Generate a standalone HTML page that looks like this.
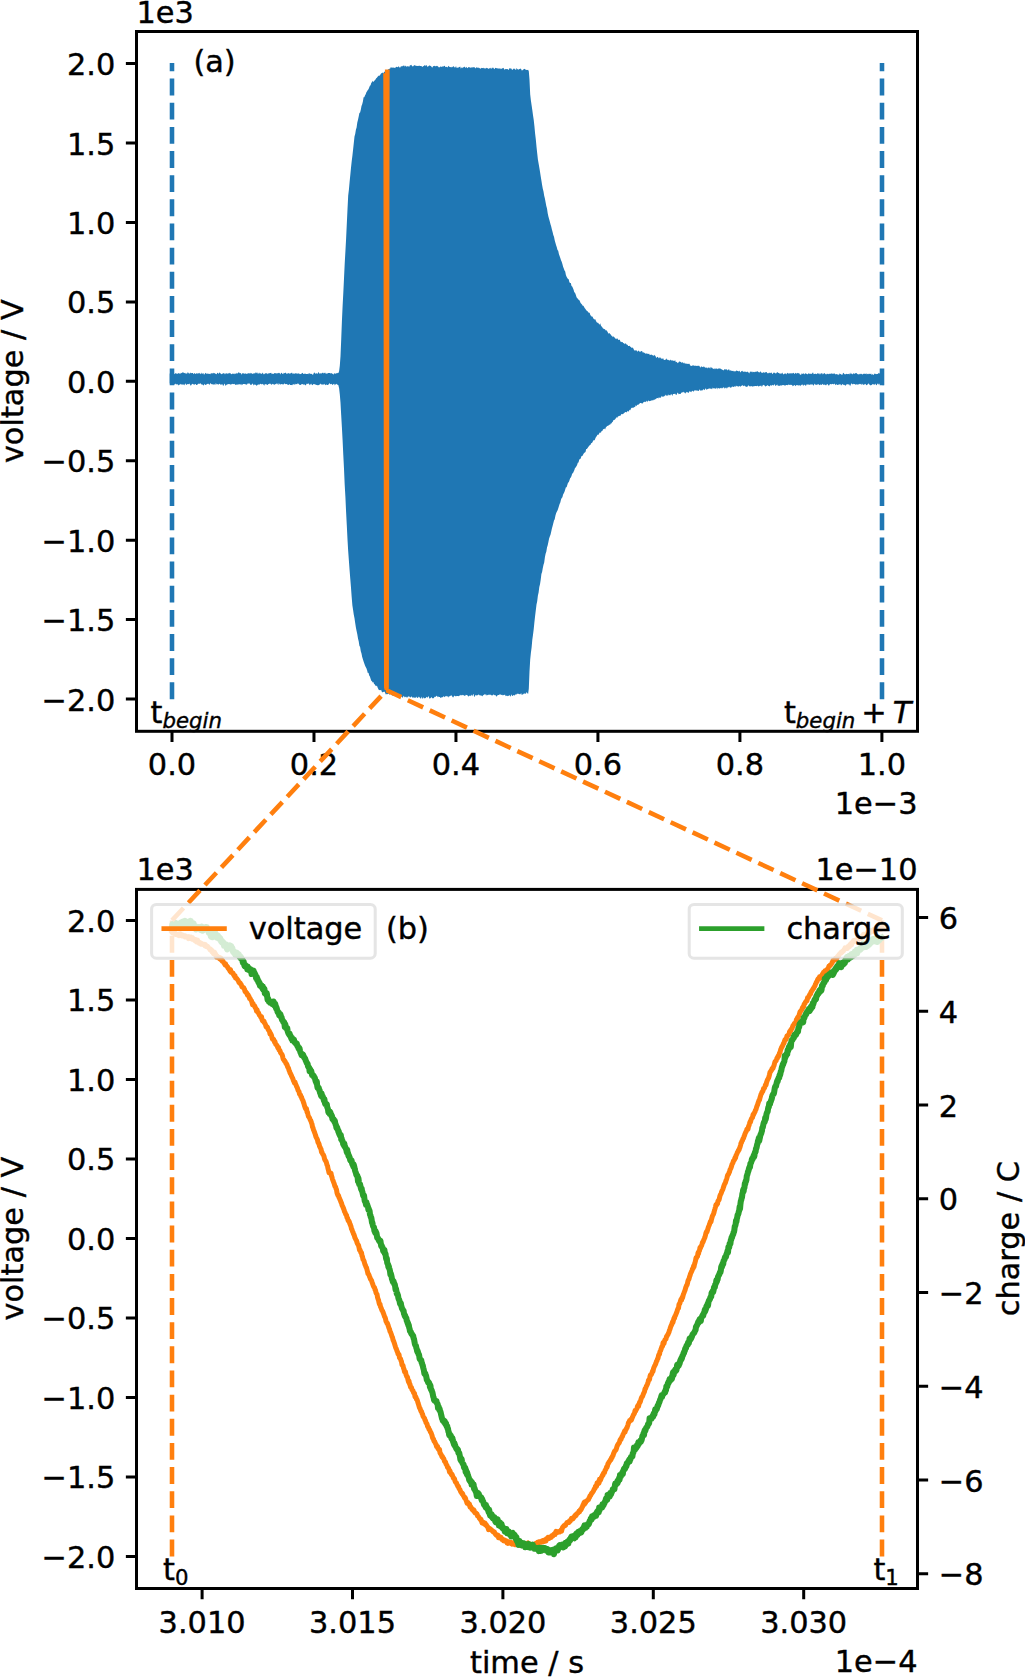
<!DOCTYPE html>
<html lang="en">
<head>
<meta charset="utf-8">
<title>Voltage burst and single-period voltage / charge traces</title>
<style>
html,body{margin:0;padding:0;background:#ffffff;}
body{width:1025px;height:1677px;overflow:hidden;}
svg{display:block;}
</style>
</head>
<body>
<svg width="1025" height="1677" viewBox="0 0 1025 1677" role="img" aria-label="Voltage burst (a) and one period of voltage and charge (b)">
<rect width="1025" height="1677" fill="#ffffff"/>
<g font-family="'DejaVu Sans', 'Liberation Sans', sans-serif" font-size="30.38" fill="#000000" stroke="#000000" stroke-width="0.4">
<path d="M169.7 373.5 L170.4 373.68 L171.1 373.34 L171.8 372.97 L172.5 373.23 L173.2 372.91 L173.9 373.54 L174.6 374.3 L175.3 373.2 L176 373.13 L176.7 373.79 L177.4 373.71 L178.1 373.56 L178.8 372.94 L179.5 373.48 L180.2 373.92 L180.9 372.69 L181.6 373.23 L182.3 372.36 L183 372.73 L183.7 372.39 L184.4 373.36 L185.1 372.74 L185.8 373.66 L186.5 373.59 L187.2 373.39 L187.9 371.99 L188.6 373.18 L189.3 373.47 L190 373.57 L190.7 372.58 L191.4 373.21 L192.1 372.91 L192.8 373.01 L193.5 374.14 L194.2 373.02 L194.9 373.48 L195.6 374.03 L196.3 373.15 L197 373.43 L197.7 373.57 L198.4 373.54 L199.1 372.76 L199.8 373.55 L200.5 374.32 L201.2 372.57 L201.9 374.02 L202.6 373.57 L203.3 373.12 L204 374.7 L204.7 373.96 L205.4 372.78 L206.1 373.54 L206.8 373.85 L207.5 373.39 L208.2 373.91 L208.9 373.46 L209.6 373.9 L210.3 374.36 L211 373.09 L211.7 373.62 L212.4 373.22 L213.1 373.58 L213.8 372.79 L214.5 373.15 L215.2 373.38 L215.9 374.04 L216.6 374.19 L217.3 372.71 L218 373.02 L218.7 373.89 L219.4 372.3 L220.1 373.22 L220.8 373.44 L221.5 374.25 L222.2 373.91 L222.9 373.3 L223.6 373.28 L224.3 373.35 L225 374.41 L225.7 373.24 L226.4 373.32 L227.1 373.71 L227.8 373.43 L228.5 373.38 L229.2 372.83 L229.9 373.49 L230.6 373.23 L231.3 374.2 L232 373.89 L232.7 373.49 L233.4 373.9 L234.1 373.3 L234.8 374.13 L235.5 373.5 L236.2 373.85 L236.9 372.73 L237.6 373.71 L238.3 372.49 L239 372.28 L239.7 373.32 L240.4 372.96 L241.1 373.6 L241.8 374.85 L242.5 373 L243.2 373.13 L243.9 373.62 L244.6 373.8 L245.3 373.39 L246 373.38 L246.7 373.92 L247.4 373.81 L248.1 372.88 L248.8 373.45 L249.5 373.52 L250.2 372.87 L250.9 373.66 L251.6 372.99 L252.3 374.08 L253 373.62 L253.7 373.55 L254.4 373.15 L255.1 373.43 L255.8 372.3 L256.5 372.82 L257.2 373.72 L257.9 372.22 L258.6 374.01 L259.3 372.45 L260 373.95 L260.7 372.99 L261.4 373.97 L262.1 373.58 L262.8 372.58 L263.5 374.25 L264.2 374.37 L264.9 373.46 L265.6 373.34 L266.3 373.4 L267 372.91 L267.7 374.16 L268.4 373.17 L269.1 373.47 L269.8 373.02 L270.5 373.12 L271.2 372.73 L271.9 374.25 L272.6 373.41 L273.3 374.08 L274 373.51 L274.7 373.08 L275.4 373.3 L276.1 373.16 L276.8 373.5 L277.5 373.27 L278.2 373.32 L278.9 372.67 L279.6 373.02 L280.3 374.49 L281 373.1 L281.7 372.87 L282.4 373.7 L283.1 374.34 L283.8 372.63 L284.5 373.37 L285.2 373.12 L285.9 372.44 L286.6 373.94 L287.3 373.49 L288 373.54 L288.7 373.05 L289.4 373.77 L290.1 373.18 L290.8 373.41 L291.5 372.84 L292.2 372.77 L292.9 374.3 L293.6 373.2 L294.3 373.68 L295 373.48 L295.7 373.24 L296.4 373.2 L297.1 373.88 L297.8 373.32 L298.5 373.41 L299.2 373.51 L299.9 374.21 L300.6 373.91 L301.3 373.73 L302 373.16 L302.7 372.67 L303.4 374.07 L304.1 374.08 L304.8 373.42 L305.5 373.83 L306.2 373.97 L306.9 374 L307.6 374.05 L308.3 373.23 L309 374.41 L309.7 372.75 L310.4 374.02 L311.1 373.8 L311.8 374.02 L312.5 374.63 L313.2 374.39 L313.9 372.81 L314.6 372.49 L315.3 373.99 L316 372.89 L316.7 373.49 L317.4 374 L318.1 372.51 L318.8 372.23 L319.5 373.66 L320.2 373.53 L320.9 373.35 L321.6 373.52 L322.3 372.98 L323 372.59 L323.7 373.4 L324.4 372.92 L325.1 372.51 L325.8 373.8 L326.5 373.46 L327.2 373.74 L327.9 372.91 L328.6 373.11 L329.3 372.9 L330 372.97 L330.7 373.62 L331.4 373.03 L332.1 373.71 L332.8 373.7 L333.5 374.72 L334.2 372.66 L334.9 374.03 L335.6 373.45 L336.3 373.49 L337 372.63 L337.7 373.22 L338.4 373.11 L339.1 371.16 L339.8 365.87 L340.5 356.31 L341.2 339.64 L341.9 321.39 L342.6 306.15 L343.3 293.12 L344 278.42 L344.7 263.75 L345.4 251.48 L346.1 238.7 L346.8 223.99 L347.5 209.33 L348.2 195.54 L348.9 189.71 L349.6 182.06 L350.3 174.93 L351 167.8 L351.7 161.33 L352.4 155.67 L353.1 149.4 L353.8 143.07 L354.5 136.58 L355.2 134.03 L355.9 129.83 L356.6 127.41 L357.3 122.51 L358 119.7 L358.7 116.43 L359.4 113.11 L360.1 112.41 L360.8 109.72 L361.5 106.04 L362.2 104.25 L362.9 101.48 L363.6 97.15 L364.3 97.15 L365 95.56 L365.7 94.25 L366.4 92.15 L367.1 91.24 L367.8 89.89 L368.5 89.31 L369.2 87.4 L369.9 85.8 L370.6 85.32 L371.3 82.87 L372 82.27 L372.7 80.71 L373.4 82.04 L374.1 80.98 L374.8 80.25 L375.5 79.4 L376.2 78.37 L376.9 77.73 L377.6 76.75 L378.3 76.08 L379 75.53 L379.7 75.71 L380.4 74.43 L381.1 73.62 L381.8 72.91 L382.5 72.48 L383.2 73.42 L383.9 72.36 L384.6 71.7 L385.3 71.05 L386 70.19 L386.7 70.42 L387.4 70.58 L388.1 69.42 L388.8 69.12 L389.5 68.72 L390.2 68.52 L390.9 67.1 L391.6 67.77 L392.3 67.3 L393 68.24 L393.7 67.15 L394.4 67.86 L395.1 68.32 L395.8 67.12 L396.5 66.85 L397.2 67.22 L397.9 67.01 L398.6 66.31 L399.3 67.08 L400 67.91 L400.7 66.45 L401.4 66.38 L402.1 65.77 L402.8 66.49 L403.5 65.45 L404.2 65.48 L404.9 66.86 L405.6 65.49 L406.3 66.62 L407 66.83 L407.7 66.02 L408.4 66.14 L409.1 66.92 L409.8 65.58 L410.5 65.28 L411.2 64.79 L411.9 65.66 L412.6 66.54 L413.3 66.25 L414 65.13 L414.7 65.21 L415.4 65.44 L416.1 65.95 L416.8 65.67 L417.5 65.95 L418.2 66.02 L418.9 65.68 L419.6 65.86 L420.3 66.03 L421 65.88 L421.7 66.26 L422.4 67.1 L423.1 66.36 L423.8 66.06 L424.5 65.04 L425.2 66.31 L425.9 64.93 L426.6 65.27 L427.3 66.66 L428 66.59 L428.7 66.1 L429.4 65.19 L430.1 66.01 L430.8 65.85 L431.5 66.67 L432.2 67.66 L432.9 66.46 L433.6 65.89 L434.3 65.67 L435 66.37 L435.7 66.32 L436.4 65.76 L437.1 66.54 L437.8 65.8 L438.5 67.18 L439.2 67.18 L439.9 67.21 L440.6 66.3 L441.3 66.92 L442 66.55 L442.7 66.42 L443.4 66.48 L444.1 65.92 L444.8 65.86 L445.5 67.23 L446.2 66.66 L446.9 66.93 L447.6 67.42 L448.3 65.8 L449 66.4 L449.7 67 L450.4 67.15 L451.1 66.72 L451.8 67.59 L452.5 67.12 L453.2 66.3 L453.9 66.49 L454.6 67.56 L455.3 67.38 L456 65.99 L456.7 67.97 L457.4 67.54 L458.1 68.02 L458.8 67.01 L459.5 67.09 L460.2 66.62 L460.9 68.84 L461.6 67.24 L462.3 68.33 L463 67.01 L463.7 67.53 L464.4 66.45 L465.1 67.25 L465.8 68.1 L466.5 66.78 L467.2 68.2 L467.9 67.79 L468.6 66.99 L469.3 67.34 L470 67.39 L470.7 67.67 L471.4 67.4 L472.1 67.25 L472.8 67.59 L473.5 67.19 L474.2 67.06 L474.9 67.83 L475.6 68.41 L476.3 66.99 L477 67.94 L477.7 67.58 L478.4 67.41 L479.1 68.53 L479.8 67.74 L480.5 68.97 L481.2 67.63 L481.9 68.36 L482.6 68.02 L483.3 67.73 L484 68.56 L484.7 68.14 L485.4 68.62 L486.1 68.26 L486.8 67.66 L487.5 68.28 L488.2 68.4 L488.9 68.97 L489.6 67.88 L490.3 68.42 L491 67.44 L491.7 68.89 L492.4 67.87 L493.1 67.46 L493.8 68.53 L494.5 69.26 L495.2 67.7 L495.9 67.99 L496.6 68.22 L497.3 68.01 L498 68.94 L498.7 68.25 L499.4 68.33 L500.1 69.14 L500.8 68.36 L501.5 69.1 L502.2 68.28 L502.9 68.16 L503.6 67.81 L504.3 70.05 L505 68.77 L505.7 69.13 L506.4 68.99 L507.1 69.13 L507.8 69.09 L508.5 70.23 L509.2 68.48 L509.9 68.2 L510.6 68.55 L511.3 68.38 L512 69.65 L512.7 69.72 L513.4 68.68 L514.1 68.44 L514.8 69.09 L515.5 70.16 L516.2 67.66 L516.9 69.69 L517.6 68.75 L518.3 70.05 L519 68.8 L519.7 69.3 L520.4 68.59 L521.1 68.96 L521.8 70.42 L522.5 70.14 L523.2 69.45 L523.9 69.22 L524.6 68.66 L525.3 69.61 L526 69.87 L526.7 69.89 L527.4 69.94 L528.1 69.63 L528.8 71.29 L529.5 79.83 L530.2 94.44 L530.9 100.62 L531.6 105.25 L532.3 109.99 L533 115.25 L533.7 119.75 L534.4 126.05 L535.1 133.46 L535.8 139.37 L536.5 146.66 L537.2 153.24 L537.9 159.58 L538.6 163.57 L539.3 167.51 L540 171.63 L540.7 176.32 L541.4 180.39 L542.1 185.12 L542.8 188.78 L543.5 191.45 L544.2 195.78 L544.9 198.41 L545.6 202.32 L546.3 205.99 L547 208.4 L547.7 213.18 L548.4 216.57 L549.1 219.01 L549.8 221.48 L550.5 224.14 L551.2 226.41 L551.9 229.46 L552.6 231.92 L553.3 234.94 L554 236.79 L554.7 240.28 L555.4 242.86 L556.1 245.32 L556.8 247.22 L557.5 249.9 L558.2 250.66 L558.9 254.02 L559.6 255.97 L560.3 258.08 L561 260.23 L561.7 261.69 L562.4 264.02 L563.1 266.64 L563.8 268.6 L564.5 270.55 L565.2 271.61 L565.9 274.92 L566.6 276.71 L567.3 278.03 L568 278.97 L568.7 279.31 L569.4 282.22 L570.1 282.98 L570.8 282.96 L571.5 286.12 L572.2 286.4 L572.9 287.93 L573.6 289.74 L574.3 292.3 L575 292.72 L575.7 294.52 L576.4 296.82 L577.1 298.13 L577.8 298.53 L578.5 299.86 L579.2 300.12 L579.9 301.33 L580.6 302.88 L581.3 303.74 L582 304.44 L582.7 305.85 L583.4 305.66 L584.1 306.97 L584.8 308.31 L585.5 309.1 L586.2 310.27 L586.9 310.74 L587.6 311.19 L588.3 312.47 L589 312.52 L589.7 313.02 L590.4 315.22 L591.1 315.72 L591.8 316.81 L592.5 316.48 L593.2 318.16 L593.9 318.89 L594.6 319.43 L595.3 319.22 L596 321.01 L596.7 322.37 L597.4 322.69 L598.1 322.73 L598.8 323.71 L599.5 324.8 L600.2 323.32 L600.9 325.53 L601.6 326.56 L602.3 327.27 L603 328.51 L603.7 328.8 L604.4 328.94 L605.1 329.56 L605.8 330.48 L606.5 330.31 L607.2 331.24 L607.9 332.44 L608.6 333.69 L609.3 333.05 L610 333.75 L610.7 334.53 L611.4 335.84 L612.1 335.65 L612.8 337.17 L613.5 336.34 L614.2 337.28 L614.9 337.68 L615.6 338.68 L616.3 339.24 L617 338.11 L617.7 338.88 L618.4 340.03 L619.1 339.84 L619.8 339.73 L620.5 341.68 L621.2 341.76 L621.9 342.16 L622.6 341.99 L623.3 343.3 L624 342.94 L624.7 344.15 L625.4 343.35 L626.1 343.79 L626.8 344.84 L627.5 344.7 L628.2 345.93 L628.9 346.09 L629.6 345.79 L630.3 346.79 L631 346.94 L631.7 348.11 L632.4 347.59 L633.1 348.11 L633.8 349.51 L634.5 350.53 L635.2 350.8 L635.9 350.04 L636.6 350.54 L637.3 351.68 L638 350.9 L638.7 350.6 L639.4 351.46 L640.1 351.88 L640.8 351.32 L641.5 351.04 L642.2 351.37 L642.9 352.85 L643.6 352.2 L644.3 352.79 L645 353.21 L645.7 353.66 L646.4 353.3 L647.1 354.01 L647.8 353.39 L648.5 353.92 L649.2 353.73 L649.9 355.24 L650.6 354.75 L651.3 354.54 L652 354.98 L652.7 355.27 L653.4 356.03 L654.1 354.87 L654.8 355.41 L655.5 356.02 L656.2 357.98 L656.9 357.24 L657.6 356.81 L658.3 357.52 L659 358.53 L659.7 357.37 L660.4 357.5 L661.1 358.66 L661.8 358.44 L662.5 358.76 L663.2 358.26 L663.9 359.93 L664.6 360.01 L665.3 359.54 L666 359.82 L666.7 358.37 L667.4 360.12 L668.1 359.77 L668.8 360.3 L669.5 360.6 L670.2 360.13 L670.9 359.47 L671.6 360.86 L672.3 360.35 L673 360.74 L673.7 360.73 L674.4 361.04 L675.1 360.01 L675.8 362.27 L676.5 361.85 L677.2 362.51 L677.9 363.18 L678.6 362.16 L679.3 361.21 L680 361.91 L680.7 361.87 L681.4 362.45 L682.1 362.95 L682.8 361.85 L683.5 363.4 L684.2 362.44 L684.9 363.68 L685.6 363.58 L686.3 363.61 L687 363.91 L687.7 363.78 L688.4 363.88 L689.1 363.39 L689.8 364.54 L690.5 365.81 L691.2 366.04 L691.9 365.8 L692.6 365.58 L693.3 364.9 L694 366.32 L694.7 365.57 L695.4 365.72 L696.1 365.7 L696.8 366.03 L697.5 365.81 L698.2 366.12 L698.9 365.62 L699.6 366.15 L700.3 367.84 L701 366.53 L701.7 366.53 L702.4 367.09 L703.1 367.3 L703.8 366.31 L704.5 366.95 L705.2 367.73 L705.9 367.44 L706.6 367.45 L707.3 368.41 L708 367.17 L708.7 367.73 L709.4 367.47 L710.1 368.77 L710.8 366.81 L711.5 367.68 L712.2 367.86 L712.9 368.68 L713.6 368.75 L714.3 369.32 L715 367.64 L715.7 369.13 L716.4 368.61 L717.1 368.48 L717.8 369.31 L718.5 368.53 L719.2 367.94 L719.9 369.06 L720.6 368.47 L721.3 369.05 L722 369.74 L722.7 369.78 L723.4 370.62 L724.1 369.63 L724.8 368.9 L725.5 369.44 L726.2 369.42 L726.9 369.32 L727.6 370.39 L728.3 369.82 L729 369.09 L729.7 370.77 L730.4 370.36 L731.1 370.72 L731.8 370.65 L732.5 371.04 L733.2 370.76 L733.9 371.55 L734.6 371.14 L735.3 371.2 L736 371.29 L736.7 370.24 L737.4 371.09 L738.1 371.11 L738.8 371.47 L739.5 370.6 L740.2 372.48 L740.9 371.63 L741.6 370.92 L742.3 370.7 L743 371.63 L743.7 371.77 L744.4 371.42 L745.1 371.93 L745.8 371.51 L746.5 372.25 L747.2 371.51 L747.9 371.95 L748.6 372.58 L749.3 373.56 L750 371.44 L750.7 371.79 L751.4 371.59 L752.1 372.59 L752.8 371.45 L753.5 371.88 L754.2 372.17 L754.9 371.63 L755.6 371.67 L756.3 371.98 L757 371.03 L757.7 371.45 L758.4 372.09 L759.1 372.45 L759.8 372.27 L760.5 371.35 L761.2 372.16 L761.9 372.94 L762.6 372.82 L763.3 372.46 L764 372 L764.7 372.94 L765.4 372.23 L766.1 371.9 L766.8 372.15 L767.5 373.52 L768.2 372.81 L768.9 373.4 L769.6 372.44 L770.3 373.32 L771 372.42 L771.7 372.71 L772.4 374.32 L773.1 373.31 L773.8 372.57 L774.5 372.85 L775.2 373.12 L775.9 373.67 L776.6 372.68 L777.3 371.95 L778 372.85 L778.7 373.05 L779.4 373.14 L780.1 373.88 L780.8 373.31 L781.5 373.63 L782.2 372.51 L782.9 373.71 L783.6 374.47 L784.3 373.7 L785 373.42 L785.7 373.38 L786.4 374.38 L787.1 372.76 L787.8 373.25 L788.5 373.6 L789.2 373.78 L789.9 373.08 L790.6 373.54 L791.3 373.19 L792 373.44 L792.7 373.3 L793.4 372.7 L794.1 373.38 L794.8 373.93 L795.5 372.83 L796.2 373.27 L796.9 373.82 L797.6 372.79 L798.3 373.55 L799 372.81 L799.7 374.14 L800.4 374.85 L801.1 374.68 L801.8 373.35 L802.5 373.93 L803.2 373.57 L803.9 373.56 L804.6 374.44 L805.3 372.73 L806 374.16 L806.7 373.51 L807.4 374.39 L808.1 373.66 L808.8 373.16 L809.5 373.73 L810.2 374.02 L810.9 373.6 L811.6 373.88 L812.3 373.29 L813 372.33 L813.7 374.15 L814.4 374.04 L815.1 373.72 L815.8 373.68 L816.5 374.27 L817.2 373.38 L817.9 373.24 L818.6 373.56 L819.3 374.39 L820 372.85 L820.7 374.41 L821.4 373.32 L822.1 373.05 L822.8 374.47 L823.5 373.67 L824.2 372.95 L824.9 373.53 L825.6 374.31 L826.3 374.47 L827 373.51 L827.7 374.02 L828.4 374.21 L829.1 373.4 L829.8 374.01 L830.5 373.78 L831.2 373.48 L831.9 373.51 L832.6 373.85 L833.3 373.82 L834 373.47 L834.7 373.55 L835.4 374.48 L836.1 373.94 L836.8 374.34 L837.5 374.53 L838.2 374.17 L838.9 375.18 L839.6 373.32 L840.3 374.3 L841 373.63 L841.7 374.94 L842.4 374.84 L843.1 372.65 L843.8 373.24 L844.5 374.23 L845.2 374.3 L845.9 374.27 L846.6 373.79 L847.3 374.1 L848 374.22 L848.7 373.79 L849.4 374.45 L850.1 372.48 L850.8 374.22 L851.5 373.22 L852.2 374.42 L852.9 373.7 L853.6 373.31 L854.3 374.07 L855 373.3 L855.7 373.3 L856.4 372.91 L857.1 373.83 L857.8 374.15 L858.5 374.47 L859.2 373.77 L859.9 374.48 L860.6 373.87 L861.3 373.8 L862 374.2 L862.7 374.5 L863.4 373.66 L864.1 373.72 L864.8 373.77 L865.5 373.92 L866.2 373.33 L866.9 374.48 L867.6 373.63 L868.3 374.15 L869 373.38 L869.7 374.09 L870.4 374.11 L871.1 373.62 L871.8 375.09 L872.5 374.1 L873.2 374.95 L873.9 374.46 L874.6 373.48 L875.3 373.65 L876 374.15 L876.7 373.92 L877.4 373.92 L878.1 373.72 L878.8 372.8 L879.5 373.76 L880.2 372.56 L880.9 374.12 L881.6 373.46 L882.3 373.47 L883 373.77 L883.7 374.06 L883.7 384.49 L883 385.67 L882.3 384.12 L881.6 384.5 L880.9 384.9 L880.2 382.99 L879.5 384.03 L878.8 384.63 L878.1 383.61 L877.4 383.74 L876.7 385.22 L876 384.99 L875.3 383.52 L874.6 384.69 L873.9 384.44 L873.2 384.33 L872.5 384.08 L871.8 385.19 L871.1 384.63 L870.4 385.48 L869.7 385.04 L869 383.83 L868.3 383.41 L867.6 384.6 L866.9 385.12 L866.2 385.25 L865.5 383.8 L864.8 384.62 L864.1 384.25 L863.4 384.91 L862.7 384.44 L862 383.51 L861.3 384.88 L860.6 384.02 L859.9 383.66 L859.2 384.19 L858.5 384.17 L857.8 384.97 L857.1 383.97 L856.4 384.4 L855.7 384.71 L855 384.29 L854.3 383.99 L853.6 383.76 L852.9 384.58 L852.2 384.11 L851.5 383.26 L850.8 384.58 L850.1 386.15 L849.4 384.62 L848.7 384.68 L848 383.76 L847.3 384.48 L846.6 384.22 L845.9 385.36 L845.2 385.64 L844.5 384.83 L843.8 384.98 L843.1 384.55 L842.4 383.89 L841.7 384.95 L841 385.61 L840.3 384.07 L839.6 384.59 L838.9 384.37 L838.2 385.06 L837.5 384.95 L836.8 384.53 L836.1 384.17 L835.4 385.13 L834.7 383.86 L834 383.82 L833.3 384.61 L832.6 383.64 L831.9 384.29 L831.2 384.21 L830.5 383.89 L829.8 384.16 L829.1 385.46 L828.4 385.55 L827.7 384.16 L827 383.98 L826.3 385.37 L825.6 385.24 L824.9 384.57 L824.2 384.84 L823.5 385.03 L822.8 383.75 L822.1 384.54 L821.4 384.92 L820.7 384.61 L820 384.77 L819.3 385.14 L818.6 384.11 L817.9 384.65 L817.2 384.17 L816.5 385.05 L815.8 384.51 L815.1 384.7 L814.4 383.62 L813.7 385.69 L813 385.11 L812.3 384.35 L811.6 384.58 L810.9 384.41 L810.2 384.62 L809.5 384.77 L808.8 384.92 L808.1 384.01 L807.4 384.65 L806.7 384.2 L806 385.63 L805.3 385.44 L804.6 384.85 L803.9 384.7 L803.2 385.99 L802.5 384.31 L801.8 385.34 L801.1 384.4 L800.4 386.2 L799.7 384.93 L799 385.8 L798.3 385.14 L797.6 385.15 L796.9 384.92 L796.2 385.18 L795.5 386.31 L794.8 384.97 L794.1 385.28 L793.4 385.81 L792.7 386.23 L792 384.67 L791.3 384.97 L790.6 384.71 L789.9 385.02 L789.2 384.76 L788.5 384.53 L787.8 385.28 L787.1 384.92 L786.4 385 L785.7 385.18 L785 385.79 L784.3 385.14 L783.6 385.1 L782.9 385.13 L782.2 385.04 L781.5 385.69 L780.8 384.91 L780.1 386.08 L779.4 385.86 L778.7 385.43 L778 386.17 L777.3 384.5 L776.6 385.06 L775.9 385.66 L775.2 385.71 L774.5 383.97 L773.8 385.23 L773.1 385.39 L772.4 384.8 L771.7 385.61 L771 385.81 L770.3 385.05 L769.6 386.56 L768.9 385.9 L768.2 385.73 L767.5 384.93 L766.8 386.11 L766.1 385.69 L765.4 386.87 L764.7 385.41 L764 385.18 L763.3 384.86 L762.6 385.46 L761.9 386.88 L761.2 385.53 L760.5 385.64 L759.8 386.3 L759.1 385.66 L758.4 386.78 L757.7 385.45 L757 386.37 L756.3 385.93 L755.6 385.95 L754.9 386.06 L754.2 386.14 L753.5 386.29 L752.8 386.38 L752.1 386.61 L751.4 385.91 L750.7 386.6 L750 386.12 L749.3 386.57 L748.6 385.32 L747.9 385.81 L747.2 386.94 L746.5 386.64 L745.8 386.67 L745.1 386.09 L744.4 385.49 L743.7 386.3 L743 385.39 L742.3 385.34 L741.6 385.83 L740.9 386.17 L740.2 386.68 L739.5 385.65 L738.8 386.63 L738.1 386.34 L737.4 386.32 L736.7 386.36 L736 385.45 L735.3 387.08 L734.6 386.21 L733.9 386.86 L733.2 387.02 L732.5 386.59 L731.8 386.68 L731.1 387.81 L730.4 387.82 L729.7 386.49 L729 387.7 L728.3 386.82 L727.6 387.59 L726.9 388.78 L726.2 387.55 L725.5 387.74 L724.8 388.74 L724.1 387.44 L723.4 387.26 L722.7 388.45 L722 387.39 L721.3 388.5 L720.6 387.68 L719.9 388.86 L719.2 388.21 L718.5 388.31 L717.8 387.73 L717.1 389.43 L716.4 387.48 L715.7 388.43 L715 388.96 L714.3 387.99 L713.6 388 L712.9 389.24 L712.2 387.48 L711.5 389.16 L710.8 388.8 L710.1 388.4 L709.4 388.38 L708.7 388.41 L708 389.14 L707.3 388.97 L706.6 390.1 L705.9 388.26 L705.2 389 L704.5 390.27 L703.8 389.22 L703.1 389.54 L702.4 390.57 L701.7 390.3 L701 390.64 L700.3 390.42 L699.6 389.32 L698.9 390.76 L698.2 391.1 L697.5 390.56 L696.8 390.74 L696.1 390.19 L695.4 390.51 L694.7 390.19 L694 391.05 L693.3 391.69 L692.6 390.74 L691.9 391.02 L691.2 392.26 L690.5 391.78 L689.8 390.94 L689.1 392.08 L688.4 392.98 L687.7 392.5 L687 391.75 L686.3 392.3 L685.6 393.74 L684.9 392.09 L684.2 393.2 L683.5 391.87 L682.8 392.01 L682.1 392.86 L681.4 392.55 L680.7 393.89 L680 393.8 L679.3 394.09 L678.6 394.25 L677.9 392.62 L677.2 393.35 L676.5 394.93 L675.8 394.73 L675.1 393.51 L674.4 394.08 L673.7 393.94 L673 393.98 L672.3 395.94 L671.6 394.34 L670.9 394.28 L670.2 395.43 L669.5 394.92 L668.8 395.6 L668.1 394.19 L667.4 395.94 L666.7 395.14 L666 396.1 L665.3 394.48 L664.6 396.18 L663.9 395.88 L663.2 396.94 L662.5 396.71 L661.8 395.66 L661.1 397.37 L660.4 397.63 L659.7 398.02 L659 397.06 L658.3 398.53 L657.6 398.11 L656.9 397.95 L656.2 398.77 L655.5 399.03 L654.8 400.01 L654.1 399.3 L653.4 400.32 L652.7 400.53 L652 400.09 L651.3 400.86 L650.6 400.65 L649.9 401.28 L649.2 401.08 L648.5 400.62 L647.8 401.01 L647.1 402.26 L646.4 400.51 L645.7 402.22 L645 401.61 L644.3 401.91 L643.6 402 L642.9 403.15 L642.2 403.38 L641.5 403.24 L640.8 402.91 L640.1 403.1 L639.4 403.64 L638.7 404.5 L638 404.76 L637.3 404.71 L636.6 406.27 L635.9 405.1 L635.2 406.86 L634.5 406.9 L633.8 407.42 L633.1 407.78 L632.4 407.66 L631.7 407.81 L631 408.38 L630.3 410.13 L629.6 409.8 L628.9 410.99 L628.2 411.81 L627.5 410.67 L626.8 412.42 L626.1 412.09 L625.4 412.03 L624.7 412.6 L624 413.13 L623.3 413.85 L622.6 414.35 L621.9 414.02 L621.2 414.23 L620.5 415.65 L619.8 415.68 L619.1 416.07 L618.4 416.37 L617.7 416.81 L617 418.16 L616.3 416.97 L615.6 418.74 L614.9 419.47 L614.2 420.06 L613.5 419.89 L612.8 421.75 L612.1 422.18 L611.4 423.5 L610.7 423.39 L610 425.12 L609.3 424.62 L608.6 425.53 L607.9 425.66 L607.2 426.05 L606.5 426.69 L605.8 427.39 L605.1 429.57 L604.4 428.57 L603.7 429.01 L603 429.51 L602.3 430.88 L601.6 431.08 L600.9 432.69 L600.2 432.51 L599.5 432.76 L598.8 434.42 L598.1 434.68 L597.4 434.84 L596.7 436.3 L596 436.88 L595.3 438.41 L594.6 440.15 L593.9 440.16 L593.2 440.57 L592.5 442.2 L591.8 442.97 L591.1 443.28 L590.4 444.95 L589.7 445.18 L589 446.11 L588.3 446.9 L587.6 447.89 L586.9 448.93 L586.2 449.02 L585.5 451.96 L584.8 452.39 L584.1 453 L583.4 453.89 L582.7 455.72 L582 455.68 L581.3 456.5 L580.6 458.67 L579.9 459.07 L579.2 459.86 L578.5 462.4 L577.8 462.72 L577.1 464.89 L576.4 466.2 L575.7 467.41 L575 468.02 L574.3 470.17 L573.6 471.67 L572.9 473.15 L572.2 473.44 L571.5 475.96 L570.8 477.51 L570.1 478.34 L569.4 480.53 L568.7 482.13 L568 482.87 L567.3 484.9 L566.6 487.21 L565.9 487.31 L565.2 489.6 L564.5 491.85 L563.8 493.23 L563.1 494.6 L562.4 497.29 L561.7 497.89 L561 499.56 L560.3 502.51 L559.6 503.98 L558.9 506.21 L558.2 508.59 L557.5 510.54 L556.8 511.69 L556.1 513.19 L555.4 515.79 L554.7 519.29 L554 520.38 L553.3 523.29 L552.6 526.02 L551.9 528.62 L551.2 531.83 L550.5 534.64 L549.8 536.47 L549.1 538.59 L548.4 541.97 L547.7 545.35 L547 547.48 L546.3 551.82 L545.6 553.8 L544.9 557.29 L544.2 562.46 L543.5 564.76 L542.8 567.9 L542.1 572.08 L541.4 574.09 L540.7 579.68 L540 584.22 L539.3 587.1 L538.6 592.47 L537.9 595.44 L537.2 601.32 L536.5 604.46 L535.8 610.16 L535.1 615.95 L534.4 622.21 L533.7 629.37 L533 634.7 L532.3 639.86 L531.6 647.42 L530.9 652.74 L530.2 659.6 L529.5 671.49 L528.8 688.7 L528.1 693.96 L527.4 693.18 L526.7 691.94 L526 693.49 L525.3 693.83 L524.6 693.58 L523.9 693.47 L523.2 694.19 L522.5 694.51 L521.8 695.07 L521.1 693.04 L520.4 694.25 L519.7 694.13 L519 694.03 L518.3 693.83 L517.6 693.87 L516.9 693.84 L516.2 694.71 L515.5 694.14 L514.8 695.39 L514.1 695.17 L513.4 695.04 L512.7 695.89 L512 695.67 L511.3 694.31 L510.6 696.75 L509.9 695.63 L509.2 695.04 L508.5 696.08 L507.8 695.66 L507.1 696.25 L506.4 695.47 L505.7 696.15 L505 694.42 L504.3 695.03 L503.6 694.9 L502.9 695.58 L502.2 694.87 L501.5 694.88 L500.8 694.51 L500.1 694.56 L499.4 694.59 L498.7 694.99 L498 695.06 L497.3 695.58 L496.6 696.67 L495.9 695.68 L495.2 695 L494.5 695.22 L493.8 694.5 L493.1 694.69 L492.4 695.42 L491.7 695.48 L491 694.73 L490.3 694.7 L489.6 694.8 L488.9 694.38 L488.2 694.98 L487.5 695.36 L486.8 694.49 L486.1 695.87 L485.4 694.34 L484.7 693.96 L484 695.28 L483.3 694.72 L482.6 696.57 L481.9 695.23 L481.2 695.92 L480.5 695.35 L479.8 695.52 L479.1 694.85 L478.4 694.38 L477.7 695.35 L477 695.18 L476.3 695.43 L475.6 694.73 L474.9 696.31 L474.2 696.97 L473.5 693.73 L472.8 695.02 L472.1 696.34 L471.4 694.55 L470.7 696.35 L470 695.28 L469.3 696.02 L468.6 696.55 L467.9 695.99 L467.2 695 L466.5 695.09 L465.8 694.75 L465.1 695.89 L464.4 695.7 L463.7 695.08 L463 695.58 L462.3 694.84 L461.6 695.44 L460.9 694.69 L460.2 695.5 L459.5 695.41 L458.8 696.14 L458.1 695.97 L457.4 696.01 L456.7 696.37 L456 695.73 L455.3 696.4 L454.6 695.6 L453.9 696.36 L453.2 697.54 L452.5 697.04 L451.8 695.47 L451.1 695.57 L450.4 695.77 L449.7 696.49 L449 695.95 L448.3 697.43 L447.6 696.56 L446.9 695.75 L446.2 696.42 L445.5 695.89 L444.8 697.23 L444.1 696.52 L443.4 696.31 L442.7 697.55 L442 696.84 L441.3 697.69 L440.6 698.12 L439.9 696.94 L439.2 696.93 L438.5 696.46 L437.8 697.14 L437.1 696.09 L436.4 695.82 L435.7 697.06 L435 696.47 L434.3 697.2 L433.6 698.18 L432.9 698.22 L432.2 698.18 L431.5 696.78 L430.8 698.44 L430.1 697.8 L429.4 699.1 L428.7 695.92 L428 697.03 L427.3 697.86 L426.6 696.81 L425.9 697.63 L425.2 698.15 L424.5 698.33 L423.8 698.19 L423.1 696.97 L422.4 699.24 L421.7 696.38 L421 698.67 L420.3 698.2 L419.6 697.61 L418.9 696.51 L418.2 697.4 L417.5 697.95 L416.8 697.46 L416.1 696.53 L415.4 697.9 L414.7 697.88 L414 697.07 L413.3 697.76 L412.6 697.68 L411.9 696.72 L411.2 696.44 L410.5 697.4 L409.8 697.37 L409.1 696.33 L408.4 696.38 L407.7 696.82 L407 698 L406.3 696.73 L405.6 696.75 L404.9 697.38 L404.2 696.38 L403.5 695.84 L402.8 697.9 L402.1 696.89 L401.4 696.71 L400.7 695.57 L400 695.69 L399.3 695.26 L398.6 695.94 L397.9 695.35 L397.2 695.19 L396.5 695.42 L395.8 695.75 L395.1 694.81 L394.4 694.99 L393.7 695.55 L393 695.44 L392.3 695.59 L391.6 695.04 L390.9 694.51 L390.2 693.67 L389.5 694.98 L388.8 693.36 L388.1 694.04 L387.4 694.25 L386.7 693.69 L386 694.65 L385.3 693.33 L384.6 691.59 L383.9 692.07 L383.2 691.81 L382.5 692.46 L381.8 691.82 L381.1 689.69 L380.4 690.28 L379.7 689.88 L379 690.23 L378.3 688.89 L377.6 687.46 L376.9 685.52 L376.2 686.34 L375.5 685.76 L374.8 684.18 L374.1 684.36 L373.4 681.9 L372.7 682.47 L372 681.13 L371.3 680.82 L370.6 678.87 L369.9 676.54 L369.2 675.56 L368.5 672.71 L367.8 673.01 L367.1 670.35 L366.4 668.37 L365.7 667.12 L365 665.39 L364.3 663.54 L363.6 661.45 L362.9 659.34 L362.2 656.99 L361.5 653.53 L360.8 651.14 L360.1 647.12 L359.4 645.81 L358.7 641.21 L358 638.59 L357.3 634.16 L356.6 630.9 L355.9 627.47 L355.2 622.94 L354.5 618.31 L353.8 614.65 L353.1 609.91 L352.4 605.62 L351.7 597.13 L351 587.79 L350.3 579.04 L349.6 570.29 L348.9 560.76 L348.2 551.35 L347.5 539.46 L346.8 525.36 L346.1 512.08 L345.4 496.68 L344.7 484.66 L344 468.79 L343.3 454.92 L342.6 440.22 L341.9 427.29 L341.2 415.2 L340.5 402.8 L339.8 394.25 L339.1 388.17 L338.4 385.18 L337.7 384.66 L337 384.54 L336.3 383.66 L335.6 384.13 L334.9 385.62 L334.2 383.72 L333.5 384.11 L332.8 385.12 L332.1 384.52 L331.4 383.81 L330.7 384.13 L330 383.99 L329.3 382.93 L328.6 384.6 L327.9 385.04 L327.2 384.96 L326.5 384.53 L325.8 384.8 L325.1 385.27 L324.4 383.84 L323.7 384.18 L323 384.95 L322.3 384.17 L321.6 384.59 L320.9 384.32 L320.2 383.48 L319.5 384.8 L318.8 385.22 L318.1 385.11 L317.4 385.13 L316.7 385.11 L316 384.78 L315.3 384.57 L314.6 384.2 L313.9 383.99 L313.2 384.18 L312.5 385.16 L311.8 384.79 L311.1 383.49 L310.4 384.54 L309.7 385.18 L309 383.68 L308.3 383.53 L307.6 383.88 L306.9 383.5 L306.2 384.38 L305.5 385.45 L304.8 384.76 L304.1 384.25 L303.4 384.64 L302.7 383.9 L302 384.29 L301.3 384.35 L300.6 384.99 L299.9 384.93 L299.2 384.39 L298.5 383.87 L297.8 383.36 L297.1 384.18 L296.4 384.08 L295.7 384.53 L295 383.58 L294.3 384.9 L293.6 384.3 L292.9 384.31 L292.2 385.23 L291.5 385.08 L290.8 385.1 L290.1 384.95 L289.4 384.1 L288.7 384.94 L288 384.78 L287.3 384.54 L286.6 384.07 L285.9 383.89 L285.2 384.31 L284.5 383.27 L283.8 384.35 L283.1 384.4 L282.4 384.36 L281.7 383.92 L281 384.18 L280.3 384.53 L279.6 384.2 L278.9 383.09 L278.2 385.37 L277.5 383.71 L276.8 383.31 L276.1 384.25 L275.4 384.04 L274.7 384.7 L274 384.42 L273.3 384.18 L272.6 383.79 L271.9 384.43 L271.2 384.72 L270.5 383.84 L269.8 383.42 L269.1 383.91 L268.4 384.11 L267.7 385.03 L267 384.66 L266.3 384.3 L265.6 384.33 L264.9 383.89 L264.2 385.8 L263.5 384.46 L262.8 384.36 L262.1 383.83 L261.4 384.43 L260.7 383.76 L260 384.03 L259.3 384.77 L258.6 384.61 L257.9 384.48 L257.2 385.18 L256.5 385.87 L255.8 385.03 L255.1 384.4 L254.4 384.59 L253.7 385.47 L253 383.94 L252.3 383.6 L251.6 384.79 L250.9 385.04 L250.2 384.38 L249.5 383.19 L248.8 383.96 L248.1 383.04 L247.4 383.93 L246.7 385.09 L246 383.97 L245.3 384.5 L244.6 383.99 L243.9 384.11 L243.2 383.95 L242.5 384.42 L241.8 385.2 L241.1 383.75 L240.4 384.86 L239.7 384.22 L239 384.32 L238.3 384.44 L237.6 384.61 L236.9 384.7 L236.2 384.62 L235.5 385.03 L234.8 384.29 L234.1 383.86 L233.4 384.37 L232.7 383.68 L232 384.14 L231.3 384.16 L230.6 384.85 L229.9 384.07 L229.2 384.27 L228.5 384.08 L227.8 384.28 L227.1 384.53 L226.4 384.87 L225.7 385.91 L225 384.58 L224.3 383.52 L223.6 385.79 L222.9 385.62 L222.2 383.99 L221.5 384.61 L220.8 384.88 L220.1 384.02 L219.4 383.85 L218.7 384.53 L218 384.48 L217.3 383.97 L216.6 384.4 L215.9 383.12 L215.2 385.08 L214.5 384.27 L213.8 384.56 L213.1 384.5 L212.4 384.26 L211.7 384.24 L211 383.74 L210.3 382.96 L209.6 385.28 L208.9 383.44 L208.2 384.33 L207.5 383.83 L206.8 383.95 L206.1 385.09 L205.4 384.92 L204.7 383.71 L204 385.1 L203.3 385.52 L202.6 384.69 L201.9 384.02 L201.2 384.85 L200.5 383.06 L199.8 383.98 L199.1 383.47 L198.4 383.73 L197.7 384.18 L197 384.92 L196.3 384.93 L195.6 383.99 L194.9 383.91 L194.2 385 L193.5 384.16 L192.8 383.88 L192.1 383.73 L191.4 385.09 L190.7 385.86 L190 384.47 L189.3 383.57 L188.6 384.24 L187.9 383.92 L187.2 384.19 L186.5 384.93 L185.8 384.22 L185.1 383.21 L184.4 385.44 L183.7 384.37 L183 384.9 L182.3 384.25 L181.6 384.75 L180.9 383.82 L180.2 384.47 L179.5 384.52 L178.8 385.45 L178.1 384.74 L177.4 384.36 L176.7 384.21 L176 384.58 L175.3 383.58 L174.6 384.79 L173.9 383.77 L173.2 385.35 L172.5 383.82 L171.8 383.17 L171.1 383.76 L170.4 383.35 L169.7 383.54 Z" fill="#1f77b4" stroke="none"/>
<path d="M172 699.2 V63.1" stroke="#1f77b4" stroke-width="4.56" stroke-dasharray="16.86 7.29" fill="none"/>
<path d="M882 699.2 V63.1" stroke="#1f77b4" stroke-width="4.56" stroke-dasharray="16.86 7.29" fill="none"/>
<path d="M385.61 75.66 L385.61 75.97 L385.62 76.35 L385.62 76.81 L385.63 77.35 L385.63 77.94 L385.64 78.54 L385.64 79.15 L385.65 79.79 L385.65 80.51 L385.66 81.33 L385.66 82.24 L385.67 83.24 L385.67 84.32 L385.67 85.49 L385.68 86.79 L385.68 88.21 L385.69 89.68 L385.69 91.2 L385.7 92.77 L385.7 94.38 L385.71 96.08 L385.71 97.88 L385.72 99.74 L385.72 101.67 L385.73 103.66 L385.73 105.78 L385.74 108.07 L385.74 110.52 L385.75 113.08 L385.75 115.75 L385.76 118.51 L385.76 121.37 L385.76 124.32 L385.77 127.29 L385.77 130.24 L385.78 133.2 L385.78 136.18 L385.79 139.18 L385.79 142.21 L385.8 145.29 L385.8 148.45 L385.81 151.7 L385.81 155.03 L385.82 158.43 L385.82 161.88 L385.83 165.37 L385.83 168.89 L385.84 172.43 L385.84 176.01 L385.84 179.62 L385.85 183.27 L385.85 186.96 L385.86 190.72 L385.86 194.56 L385.87 198.49 L385.87 202.49 L385.88 206.52 L385.88 210.62 L385.89 214.86 L385.89 219.22 L385.9 223.7 L385.9 228.28 L385.91 232.98 L385.91 237.79 L385.92 242.71 L385.92 247.7 L385.93 252.78 L385.93 257.94 L385.93 263.18 L385.94 268.46 L385.94 273.77 L385.95 279.12 L385.95 284.5 L385.96 289.86 L385.96 295.19 L385.97 300.47 L385.97 305.71 L385.98 310.91 L385.98 316.07 L385.99 321.2 L385.99 326.32 L386 331.51 L386 336.77 L386.01 342.08 L386.01 347.35 L386.01 352.57 L386.02 357.74 L386.02 362.89 L386.03 367.97 L386.03 372.95 L386.04 377.86 L386.04 382.79 L386.05 387.85 L386.05 393.05 L386.06 398.36 L386.06 403.77 L386.07 409.25 L386.07 414.78 L386.08 420.23 L386.08 425.59 L386.09 430.93 L386.09 436.27 L386.1 441.62 L386.1 446.98 L386.1 452.34 L386.11 457.73 L386.11 463.18 L386.12 468.68 L386.12 474.17 L386.13 479.63 L386.13 485.08 L386.14 490.5 L386.14 495.89 L386.15 501.26 L386.15 506.6 L386.16 511.86 L386.16 517.03 L386.17 522.12 L386.17 527.12 L386.18 532.04 L386.18 536.9 L386.18 541.71 L386.19 546.49 L386.19 551.21 L386.2 555.89 L386.2 560.51 L386.21 565.08 L386.21 569.57 L386.22 573.97 L386.22 578.27 L386.23 582.48 L386.23 586.64 L386.24 590.74 L386.24 594.79 L386.25 598.79 L386.25 602.78 L386.26 606.77 L386.26 610.7 L386.26 614.55 L386.27 618.31 L386.27 621.99 L386.28 625.58 L386.28 629.08 L386.29 632.45 L386.29 635.7 L386.3 638.91 L386.3 642.06 L386.31 645.18 L386.31 648.21 L386.32 651.07 L386.32 653.78 L386.33 656.35 L386.33 658.8 L386.34 661.12 L386.34 663.32 L386.35 665.38 L386.35 667.38 L386.35 669.38 L386.36 671.38 L386.36 673.32 L386.37 675.17 L386.37 676.9 L386.38 678.54 L386.38 680.06 L386.39 681.44 L386.39 682.62 L386.4 683.61 L386.4 684.48 L386.41 685.27 L386.41 685.97 L386.42 686.53 L386.42 686.95 L386.43 687.28 L386.43 687.55 L386.43 687.75 L386.44 687.88 L386.44 687.87 L386.45 687.72 L386.45 687.47 L386.46 687.14 L386.46 686.72 L386.47 686.21 L386.47 685.55 L386.48 684.75 L386.48 683.89 L386.49 682.95 L386.49 681.96 L386.5 680.88 L386.5 679.68 L386.51 678.36 L386.51 676.99 L386.52 675.55 L386.52 674.06 L386.52 672.48 L386.53 670.8 L386.53 669.04 L386.54 667.24 L386.54 665.39 L386.55 663.48 L386.55 661.47 L386.56 659.36 L386.56 657.18 L386.57 654.95 L386.57 652.6 L386.58 650.11 L386.58 647.46 L386.59 644.69 L386.59 641.83 L386.6 638.89 L386.6 635.91 L386.6 632.85 L386.61 629.68 L386.61 626.38 L386.62 622.95 L386.62 619.39 L386.63 615.71 L386.63 611.88 L386.64 607.89 L386.64 603.79 L386.65 599.69 L386.65 595.62 L386.66 591.6 L386.66 587.63 L386.67 583.7 L386.67 579.81 L386.68 575.95 L386.68 572.12 L386.69 568.33 L386.69 564.56 L386.69 560.79 L386.7 557.02 L386.7 553.13 L386.71 549.03 L386.71 544.72 L386.72 540.2 L386.72 535.47 L386.73 530.55 L386.73 525.42 L386.74 520.12 L386.74 514.87 L386.75 509.73 L386.75 504.69 L386.76 499.75 L386.76 494.92 L386.77 490.18 L386.77 485.55 L386.77 480.98 L386.78 476.37 L386.78 471.63 L386.79 466.78 L386.79 461.8 L386.8 456.69 L386.8 451.44 L386.81 446.07 L386.81 440.58 L386.82 435.05 L386.82 429.54 L386.83 424.05 L386.83 418.58 L386.84 413.13 L386.84 407.7 L386.85 402.29 L386.85 396.93 L386.85 391.62 L386.86 386.37 L386.86 381.16 L386.87 375.97 L386.87 370.78 L386.88 365.59 L386.88 360.39 L386.89 355.15 L386.89 349.85 L386.9 344.5 L386.9 339.13 L386.91 333.82 L386.91 328.59 L386.92 323.42 L386.92 318.31 L386.93 313.28 L386.93 308.31 L386.94 303.41 L386.94 298.55 L386.94 293.72 L386.95 288.94 L386.95 284.21 L386.96 279.51 L386.96 274.8 L386.97 270.06 L386.97 265.28 L386.98 260.46 L386.98 255.6 L386.99 250.7 L386.99 245.76 L387 240.8 L387 235.89 L387.01 231.05 L387.01 226.28 L387.02 221.57 L387.02 216.9 L387.02 212.31 L387.03 207.77 L387.03 203.31 L387.04 198.88 L387.04 194.54 L387.05 190.3 L387.05 186.16 L387.06 182.1 L387.06 178.1 L387.07 174.18 L387.07 170.36 L387.08 166.64 L387.08 162.95 L387.09 159.3 L387.09 155.68 L387.1 152.09 L387.1 148.51 L387.11 144.93 L387.11 141.33 L387.11 137.71 L387.12 134.13 L387.12 130.66 L387.13 127.31 L387.13 124.09 L387.14 121 L387.14 118.04 L387.15 115.26 L387.15 112.69 L387.16 110.25 L387.16 107.9 L387.17 105.63 L387.17 103.44 L387.18 101.35 L387.18 99.37 L387.19 97.43 L387.19 95.51 L387.19 93.61 L387.2 91.74 L387.2 89.94 L387.21 88.21 L387.21 86.56 L387.22 84.96 L387.22 83.43 L387.23 81.96 L387.23 80.62 L387.24 79.39 L387.24 78.24 L387.25 77.16 L387.25 76.15 L387.26 75.22 L387.26 74.4 L387.27 73.7 L387.27 73.08 L387.28 72.56 L387.28 72.15 L387.28 71.84" stroke="#ff7f0e" stroke-width="4.76" fill="none" stroke-linejoin="round" stroke-linecap="square"/>
<path d="M172 932.27 L172.5 932.91 L173 932.37 L173.5 932.6 L174 933.36 L174.5 932.87 L175 933.01 L175.5 934.37 L176 933.97 L176.5 934.11 L177 934.13 L177.5 934.28 L178 935.06 L178.5 934.37 L179 935.7 L179.5 934.09 L180 934.6 L180.5 934.01 L181 934.72 L181.5 935.32 L182 935.97 L182.5 934.98 L183 935.66 L183.5 935.72 L184 935.78 L184.5 935.79 L185 936.82 L185.5 935.86 L186 937.07 L186.5 937.13 L187 936.84 L187.5 936.74 L188 936.63 L188.5 938.62 L189 936.73 L189.5 938.51 L190 937.99 L190.5 937.47 L191 937.06 L191.5 938.55 L192 939.14 L192.5 937.72 L193 938.29 L193.5 939.29 L194 939.06 L194.5 940.43 L195 939.26 L195.5 940.31 L196 939.62 L196.5 942.02 L197 940.73 L197.5 940.08 L198 941.57 L198.5 941.81 L199 943.29 L199.5 942.2 L200 942.66 L200.5 943.28 L201 944.13 L201.5 943.41 L202 944.35 L202.5 944.32 L203 944.12 L203.5 944.57 L204 944.76 L204.5 944.42 L205 945.93 L205.5 944.6 L206 946.37 L206.5 946.58 L207 946.29 L207.5 946.24 L208 946.91 L208.5 947.68 L209 948.2 L209.5 948.54 L210 949.58 L210.5 949.26 L211 950.36 L211.5 949.9 L212 951.93 L212.5 952.02 L213 952.14 L213.5 953.56 L214 953.76 L214.5 952.14 L215 954.34 L215.5 953.9 L216 955.87 L216.5 957.19 L217 955.85 L217.5 956.68 L218 956.96 L218.5 957.59 L219 958.03 L219.5 958.69 L220 957.61 L220.5 959.43 L221 958.21 L221.5 959.67 L222 960.93 L222.5 961.42 L223 961.18 L223.5 962.09 L224 963.02 L224.5 963.66 L225 964.79 L225.5 963.75 L226 965.24 L226.5 965.76 L227 966.18 L227.5 966.84 L228 968.19 L228.5 968.29 L229 969.25 L229.5 969.81 L230 971.29 L230.5 969.73 L231 972.31 L231.5 972.06 L232 972.72 L232.5 972.99 L233 973.15 L233.5 974.61 L234 975.01 L234.5 976.3 L235 975.71 L235.5 978.05 L236 977.96 L236.5 978.4 L237 978.88 L237.5 979.6 L238 980.16 L238.5 981.27 L239 982.36 L239.5 982.85 L240 982.7 L240.5 983.98 L241 984.19 L241.5 985.42 L242 987.03 L242.5 987.14 L243 987.43 L243.5 987.5 L244 988.49 L244.5 989.18 L245 991.49 L245.5 991.25 L246 992.41 L246.5 992.66 L247 993.75 L247.5 995.19 L248 994.61 L248.5 995.79 L249 996.49 L249.5 998.49 L250 998.33 L250.5 999.25 L251 1000.09 L251.5 1000.82 L252 1002.68 L252.5 1004.69 L253 1003.3 L253.5 1005.23 L254 1005.57 L254.5 1005.65 L255 1007.04 L255.5 1007.96 L256 1008.59 L256.5 1011.08 L257 1009.69 L257.5 1011.84 L258 1012.6 L258.5 1012.84 L259 1014.07 L259.5 1015.31 L260 1015.67 L260.5 1016.59 L261 1017.52 L261.5 1016.65 L262 1019.53 L262.5 1020.78 L263 1020.77 L263.5 1021.76 L264 1021.28 L264.5 1023.03 L265 1023.59 L265.5 1024.71 L266 1026.63 L266.5 1026.37 L267 1027.59 L267.5 1027.33 L268 1029.2 L268.5 1030.17 L269 1030.51 L269.5 1031.5 L270 1034.06 L270.5 1033.2 L271 1034.3 L271.5 1035.45 L272 1037.66 L272.5 1039.09 L273 1038.91 L273.5 1039.17 L274 1040.23 L274.5 1042.01 L275 1041.72 L275.5 1043.93 L276 1044.71 L276.5 1044.7 L277 1045.85 L277.5 1046.73 L278 1048.02 L278.5 1047.51 L279 1049.91 L279.5 1050.04 L280 1050.87 L280.5 1052.47 L281 1053.36 L281.5 1053.89 L282 1054.52 L282.5 1055.92 L283 1058.36 L283.5 1059.67 L284 1059.89 L284.5 1061.18 L285 1061.13 L285.5 1062.37 L286 1063.56 L286.5 1063.72 L287 1064.76 L287.5 1066.57 L288 1067.48 L288.5 1068.2 L289 1070.24 L289.5 1071.04 L290 1073 L290.5 1073.55 L291 1074.54 L291.5 1075.97 L292 1076.98 L292.5 1077.87 L293 1079.23 L293.5 1080.84 L294 1081.7 L294.5 1083.01 L295 1082.16 L295.5 1083.88 L296 1084.82 L296.5 1086.34 L297 1087.13 L297.5 1088.28 L298 1090.24 L298.5 1091.07 L299 1091.47 L299.5 1093.99 L300 1094.81 L300.5 1094.9 L301 1096.78 L301.5 1096.88 L302 1099.05 L302.5 1099.7 L303 1100.81 L303.5 1102.53 L304 1103.76 L304.5 1105.81 L305 1107.28 L305.5 1108.44 L306 1109.34 L306.5 1108.73 L307 1112.24 L307.5 1112.31 L308 1114.86 L308.5 1116.53 L309 1117.15 L309.5 1117.89 L310 1119.16 L310.5 1120.33 L311 1121.23 L311.5 1122.78 L312 1124.14 L312.5 1126.98 L313 1127.83 L313.5 1129.99 L314 1130.84 L314.5 1132.4 L315 1133.62 L315.5 1135.37 L316 1136.96 L316.5 1137.98 L317 1138.81 L317.5 1139.96 L318 1142.64 L318.5 1142.69 L319 1143.9 L319.5 1146.16 L320 1147.14 L320.5 1148.18 L321 1148.99 L321.5 1152.01 L322 1152.2 L322.5 1153.65 L323 1154.58 L323.5 1155.09 L324 1156.4 L324.5 1158.7 L325 1159.94 L325.5 1160.81 L326 1161.5 L326.5 1162.82 L327 1164.96 L327.5 1165.76 L328 1168.64 L328.5 1170.27 L329 1172.74 L329.5 1172.63 L330 1172.81 L330.5 1173.7 L331 1173.2 L331.5 1175.97 L332 1177.27 L332.5 1179.36 L333 1180.54 L333.5 1181.93 L334 1183.12 L334.5 1184.8 L335 1186.69 L335.5 1186.71 L336 1188.6 L336.5 1189.58 L337 1192.93 L337.5 1194.28 L338 1195.5 L338.5 1195.47 L339 1197.43 L339.5 1198.33 L340 1199.65 L340.5 1200.63 L341 1202.18 L341.5 1202.99 L342 1205.1 L342.5 1206.08 L343 1207.11 L343.5 1208.56 L344 1209.71 L344.5 1211.7 L345 1212.28 L345.5 1213.85 L346 1214.67 L346.5 1215.24 L347 1217.9 L347.5 1217.91 L348 1220.14 L348.5 1221.16 L349 1221.09 L349.5 1222.68 L350 1224.1 L350.5 1225.28 L351 1226.43 L351.5 1228.94 L352 1229.7 L352.5 1231.42 L353 1232.27 L353.5 1233.98 L354 1234.62 L354.5 1236.32 L355 1237.96 L355.5 1238.92 L356 1239.91 L356.5 1240.64 L357 1242.52 L357.5 1243.75 L358 1244.53 L358.5 1245.36 L359 1247.3 L359.5 1249.91 L360 1249.69 L360.5 1251.53 L361 1253.01 L361.5 1252.72 L362 1255.81 L362.5 1256.74 L363 1259.44 L363.5 1259.9 L364 1261.04 L364.5 1262.83 L365 1264.52 L365.5 1265.44 L366 1267.11 L366.5 1267.7 L367 1269.74 L367.5 1271.71 L368 1273.79 L368.5 1274.14 L369 1274.98 L369.5 1276.62 L370 1277.61 L370.5 1279.08 L371 1279.81 L371.5 1280.49 L372 1282.11 L372.5 1283.46 L373 1284.93 L373.5 1286.27 L374 1287.07 L374.5 1287.55 L375 1289.69 L375.5 1290.15 L376 1292.68 L376.5 1293.91 L377 1294.18 L377.5 1297.2 L378 1298.92 L378.5 1300.06 L379 1302.62 L379.5 1304.35 L380 1304.11 L380.5 1306.75 L381 1307.69 L381.5 1308.97 L382 1310.57 L382.5 1310.88 L383 1312.25 L383.5 1313.47 L384 1314.88 L384.5 1316.64 L385 1317.2 L385.5 1318.82 L386 1321.17 L386.5 1322 L387 1323.49 L387.5 1323.35 L388 1325.23 L388.5 1326.58 L389 1328.15 L389.5 1329.12 L390 1331.38 L390.5 1332.12 L391 1333.51 L391.5 1334.85 L392 1336.6 L392.5 1337.38 L393 1339.83 L393.5 1340.91 L394 1342.22 L394.5 1343.63 L395 1345.4 L395.5 1347.06 L396 1348.38 L396.5 1349.39 L397 1351.04 L397.5 1351.93 L398 1353.96 L398.5 1354.44 L399 1354.46 L399.5 1357.76 L400 1358.27 L400.5 1358.75 L401 1360.57 L401.5 1361.6 L402 1364.81 L402.5 1365.28 L403 1365.45 L403.5 1368.14 L404 1368.98 L404.5 1371.72 L405 1371.28 L405.5 1371.91 L406 1374.63 L406.5 1375.72 L407 1377 L407.5 1377.2 L408 1379.96 L408.5 1381.93 L409 1380.99 L409.5 1384.05 L410 1384.2 L410.5 1387.07 L411 1387.02 L411.5 1387.75 L412 1389.63 L412.5 1390.37 L413 1390.79 L413.5 1392.68 L414 1393.06 L414.5 1393.39 L415 1396.78 L415.5 1396.45 L416 1397.38 L416.5 1399.33 L417 1399.58 L417.5 1401.08 L418 1402.97 L418.5 1404.33 L419 1406.05 L419.5 1407.91 L420 1408.17 L420.5 1409.96 L421 1411.24 L421.5 1411.44 L422 1413.44 L422.5 1413.85 L423 1416.17 L423.5 1416.92 L424 1417.77 L424.5 1418.06 L425 1420.03 L425.5 1420.63 L426 1422.64 L426.5 1423.26 L427 1423.95 L427.5 1426.1 L428 1427.08 L428.5 1427.37 L429 1429.5 L429.5 1429.7 L430 1430.75 L430.5 1432.07 L431 1432.6 L431.5 1434 L432 1435.37 L432.5 1437.59 L433 1438.77 L433.5 1438.91 L434 1441.22 L434.5 1441.19 L435 1442.41 L435.5 1443.68 L436 1444.28 L436.5 1446.51 L437 1446.15 L437.5 1446.33 L438 1448.87 L438.5 1448.88 L439 1449.97 L439.5 1449.39 L440 1452.81 L440.5 1453.6 L441 1454.48 L441.5 1455.47 L442 1456.79 L442.5 1456.64 L443 1458.12 L443.5 1458.15 L444 1459.42 L444.5 1461.3 L445 1461.93 L445.5 1461.93 L446 1463.98 L446.5 1464.72 L447 1465.41 L447.5 1467.22 L448 1467.77 L448.5 1468.12 L449 1469.43 L449.5 1472 L450 1470.87 L450.5 1472.75 L451 1473.81 L451.5 1474.65 L452 1474.35 L452.5 1475.79 L453 1476.97 L453.5 1478.25 L454 1478.27 L454.5 1478.84 L455 1481.02 L455.5 1482.07 L456 1482.61 L456.5 1483 L457 1484.59 L457.5 1485.37 L458 1486.77 L458.5 1486.52 L459 1488.34 L459.5 1489.17 L460 1489.58 L460.5 1491.35 L461 1492.21 L461.5 1492.66 L462 1493.85 L462.5 1493.46 L463 1494.99 L463.5 1495.98 L464 1496.58 L464.5 1497.98 L465 1497.53 L465.5 1498.27 L466 1500.23 L466.5 1501.27 L467 1503.17 L467.5 1502.89 L468 1502.61 L468.5 1504.23 L469 1503.85 L469.5 1504.06 L470 1507.1 L470.5 1506.44 L471 1507.38 L471.5 1507.98 L472 1509.41 L472.5 1509.17 L473 1510.39 L473.5 1509.61 L474 1509.95 L474.5 1512.19 L475 1512.76 L475.5 1512.71 L476 1513.06 L476.5 1513.73 L477 1513.92 L477.5 1515.95 L478 1516.1 L478.5 1516.68 L479 1517.27 L479.5 1518.45 L480 1518.9 L480.5 1519.8 L481 1519.41 L481.5 1521.16 L482 1522.91 L482.5 1521.7 L483 1522.34 L483.5 1523.36 L484 1523.79 L484.5 1523.98 L485 1523.03 L485.5 1524.84 L486 1524.37 L486.5 1525.12 L487 1526.49 L487.5 1526.52 L488 1527.73 L488.5 1529.63 L489 1528.7 L489.5 1529.17 L490 1528.69 L490.5 1529.34 L491 1529.57 L491.5 1530.3 L492 1530.38 L492.5 1531.03 L493 1531.7 L493.5 1531.61 L494 1531.74 L494.5 1532.2 L495 1533.7 L495.5 1533.88 L496 1534.87 L496.5 1535.28 L497 1534.84 L497.5 1535.88 L498 1535.05 L498.5 1537.7 L499 1537.47 L499.5 1537.03 L500 1536.87 L500.5 1538.21 L501 1537.27 L501.5 1538.31 L502 1539.61 L502.5 1539.58 L503 1539.59 L503.5 1540.73 L504 1539.79 L504.5 1540.83 L505 1540.59 L505.5 1540.6 L506 1541.6 L506.5 1540.95 L507 1542.91 L507.5 1541.64 L508 1543.4 L508.5 1541.76 L509 1542.98 L509.5 1542.06 L510 1542.13 L510.5 1543.18 L511 1543.63 L511.5 1542.6 L512 1544.21 L512.5 1543.08 L513 1543.69 L513.5 1543.89 L514 1544.05 L514.5 1542.64 L515 1544.71 L515.5 1544.22 L516 1543.77 L516.5 1543.56 L517 1543.29 L517.5 1543.62 L518 1544.89 L518.5 1544.37 L519 1543.89 L519.5 1544.25 L520 1545.5 L520.5 1544.35 L521 1544.18 L521.5 1545.59 L522 1545.29 L522.5 1545.27 L523 1545.11 L523.5 1544.77 L524 1545.22 L524.5 1545.33 L525 1545.18 L525.5 1545.21 L526 1545 L526.5 1544.47 L527 1544.12 L527.5 1543.53 L528 1542.98 L528.5 1544.1 L529 1543.97 L529.5 1544.27 L530 1544.62 L530.5 1544.22 L531 1544.48 L531.5 1545.26 L532 1545.56 L532.5 1545.26 L533 1546.11 L533.5 1545.3 L534 1544.43 L534.5 1544.68 L535 1545.39 L535.5 1543.45 L536 1544.14 L536.5 1544.04 L537 1543.87 L537.5 1542.23 L538 1543.67 L538.5 1542.26 L539 1541.76 L539.5 1541.69 L540 1542.09 L540.5 1541.66 L541 1541.42 L541.5 1542.19 L542 1540.88 L542.5 1540.59 L543 1541.59 L543.5 1541.43 L544 1541.56 L544.5 1540.15 L545 1541.32 L545.5 1540.56 L546 1540.93 L546.5 1538.72 L547 1539.19 L547.5 1538.47 L548 1537.26 L548.5 1537.57 L549 1538.46 L549.5 1537.27 L550 1536.89 L550.5 1537.6 L551 1537.42 L551.5 1537.04 L552 1535.59 L552.5 1535.64 L553 1535.9 L553.5 1534.49 L554 1534.03 L554.5 1534.58 L555 1534.61 L555.5 1532.57 L556 1531.29 L556.5 1531.57 L557 1531.41 L557.5 1531.91 L558 1532.33 L558.5 1531.84 L559 1531.47 L559.5 1531.94 L560 1531.22 L560.5 1531.05 L561 1529.97 L561.5 1531.23 L562 1529.37 L562.5 1527.64 L563 1526.8 L563.5 1526.63 L564 1525.4 L564.5 1525.44 L565 1524.92 L565.5 1525.38 L566 1524.08 L566.5 1523.41 L567 1522.62 L567.5 1522.26 L568 1522.47 L568.5 1521.91 L569 1522.25 L569.5 1520.8 L570 1521.41 L570.5 1520.52 L571 1519.95 L571.5 1518.33 L572 1518.34 L572.5 1519.04 L573 1518.91 L573.5 1517.67 L574 1517.47 L574.5 1516.23 L575 1515.71 L575.5 1515.02 L576 1515.49 L576.5 1514.6 L577 1513.73 L577.5 1513.15 L578 1513.15 L578.5 1512.38 L579 1511.04 L579.5 1511.91 L580 1510.37 L580.5 1509.55 L581 1509.75 L581.5 1508.69 L582 1507.23 L582.5 1506.8 L583 1505.02 L583.5 1504.45 L584 1502.64 L584.5 1504.25 L585 1501.88 L585.5 1502.93 L586 1501.52 L586.5 1500.92 L587 1500.87 L587.5 1500.34 L588 1499.74 L588.5 1499.63 L589 1497.96 L589.5 1497.45 L590 1495.74 L590.5 1495.79 L591 1494.71 L591.5 1493.59 L592 1493.06 L592.5 1492.33 L593 1491.72 L593.5 1490.96 L594 1489.52 L594.5 1488.48 L595 1488.46 L595.5 1486.08 L596 1485.8 L596.5 1486.38 L597 1483.09 L597.5 1483.56 L598 1483.64 L598.5 1481.49 L599 1483.27 L599.5 1479.28 L600 1480.81 L600.5 1479.99 L601 1478.71 L601.5 1477.11 L602 1476.55 L602.5 1474.95 L603 1475.13 L603.5 1473.11 L604 1472.76 L604.5 1472.64 L605 1470.49 L605.5 1469.84 L606 1469.04 L606.5 1467.01 L607 1467.38 L607.5 1465.74 L608 1463.47 L608.5 1463.48 L609 1462.17 L609.5 1461.36 L610 1460.92 L610.5 1459.58 L611 1459.71 L611.5 1457.69 L612 1457.68 L612.5 1456.05 L613 1455.58 L613.5 1453.73 L614 1452.75 L614.5 1451.22 L615 1451.13 L615.5 1450.21 L616 1449.8 L616.5 1448.18 L617 1446.43 L617.5 1445.21 L618 1444.63 L618.5 1443.45 L619 1443.41 L619.5 1442.16 L620 1440.16 L620.5 1439.25 L621 1439.49 L621.5 1437.85 L622 1436.54 L622.5 1436.4 L623 1434.46 L623.5 1433.74 L624 1432.84 L624.5 1431.16 L625 1432.07 L625.5 1430.05 L626 1429.66 L626.5 1428.26 L627 1427.85 L627.5 1426.08 L628 1424.84 L628.5 1422.54 L629 1422.2 L629.5 1420.65 L630 1420.99 L630.5 1420.3 L631 1419.35 L631.5 1419.86 L632 1418.22 L632.5 1417.19 L633 1415.84 L633.5 1414.57 L634 1414.19 L634.5 1413.18 L635 1410.64 L635.5 1411.2 L636 1410 L636.5 1409.39 L637 1408.19 L637.5 1406.26 L638 1405.38 L638.5 1406.24 L639 1404.36 L639.5 1402.4 L640 1402.49 L640.5 1401.08 L641 1399.19 L641.5 1397.64 L642 1396.75 L642.5 1396.56 L643 1395.05 L643.5 1393.59 L644 1392.56 L644.5 1391.62 L645 1388.84 L645.5 1388.76 L646 1387.27 L646.5 1385.84 L647 1385.05 L647.5 1383.92 L648 1382.43 L648.5 1380.31 L649 1379.47 L649.5 1379.53 L650 1376.26 L650.5 1374.84 L651 1374.98 L651.5 1374.14 L652 1373.04 L652.5 1371.07 L653 1371.33 L653.5 1368.87 L654 1367.28 L654.5 1366.22 L655 1365.15 L655.5 1364.29 L656 1362.88 L656.5 1361.27 L657 1360.62 L657.5 1358.9 L658 1358.19 L658.5 1355.61 L659 1354.31 L659.5 1354.27 L660 1351.52 L660.5 1350.74 L661 1349.43 L661.5 1347.76 L662 1346.36 L662.5 1346.33 L663 1342.83 L663.5 1343.75 L664 1343.47 L664.5 1340.98 L665 1339.84 L665.5 1339.36 L666 1339.1 L666.5 1336.36 L667 1336.2 L667.5 1335.09 L668 1334.59 L668.5 1333.05 L669 1332.04 L669.5 1330.08 L670 1329.04 L670.5 1327.27 L671 1325.94 L671.5 1325.03 L672 1323.79 L672.5 1321.93 L673 1322.33 L673.5 1320.05 L674 1318.04 L674.5 1318.32 L675 1316 L675.5 1315.53 L676 1313.98 L676.5 1312.9 L677 1311.6 L677.5 1309.68 L678 1308.57 L678.5 1308.27 L679 1304.21 L679.5 1304.09 L680 1302.79 L680.5 1300.74 L681 1299.38 L681.5 1300.32 L682 1297.62 L682.5 1297.91 L683 1295.8 L683.5 1294.06 L684 1292.85 L684.5 1291.49 L685 1290.36 L685.5 1288.46 L686 1286.83 L686.5 1285.52 L687 1284.9 L687.5 1283.25 L688 1280.84 L688.5 1279.73 L689 1278.99 L689.5 1276.93 L690 1275.6 L690.5 1273.77 L691 1272.71 L691.5 1271.64 L692 1270.51 L692.5 1268.67 L693 1268.67 L693.5 1266.14 L694 1266.86 L694.5 1264.31 L695 1262.77 L695.5 1260.7 L696 1257.83 L696.5 1257.96 L697 1256.7 L697.5 1256.29 L698 1252.85 L698.5 1253.65 L699 1251.19 L699.5 1250.62 L700 1247.5 L700.5 1247.95 L701 1246.51 L701.5 1245.83 L702 1244.19 L702.5 1242.16 L703 1242.12 L703.5 1240.69 L704 1239.35 L704.5 1238.28 L705 1237.01 L705.5 1235.02 L706 1232.89 L706.5 1231.56 L707 1231.88 L707.5 1230.15 L708 1228.45 L708.5 1226.79 L709 1225.73 L709.5 1224.39 L710 1222.83 L710.5 1221.33 L711 1221.76 L711.5 1219.31 L712 1217.52 L712.5 1215.8 L713 1214.85 L713.5 1214.07 L714 1212.44 L714.5 1210.2 L715 1208.7 L715.5 1206.83 L716 1204.68 L716.5 1205.15 L717 1203.61 L717.5 1203.88 L718 1200.95 L718.5 1200.33 L719 1199.95 L719.5 1197.82 L720 1195.69 L720.5 1194.51 L721 1193.7 L721.5 1192.4 L722 1190.71 L722.5 1190.09 L723 1188.8 L723.5 1187.13 L724 1185.69 L724.5 1184.25 L725 1183.48 L725.5 1182.37 L726 1180.53 L726.5 1179.44 L727 1177.66 L727.5 1175.69 L728 1174.63 L728.5 1174.31 L729 1172.75 L729.5 1172.07 L730 1169.78 L730.5 1168.91 L731 1167.83 L731.5 1166.48 L732 1164.36 L732.5 1163.47 L733 1162.52 L733.5 1160.71 L734 1160.45 L734.5 1159.68 L735 1157.68 L735.5 1158.05 L736 1155.6 L736.5 1154.56 L737 1153.45 L737.5 1152.04 L738 1151.59 L738.5 1150.23 L739 1150.09 L739.5 1148.34 L740 1147.18 L740.5 1145.33 L741 1143.22 L741.5 1142.63 L742 1140.79 L742.5 1140.49 L743 1138.52 L743.5 1138.33 L744 1136.57 L744.5 1135.43 L745 1133.86 L745.5 1132.64 L746 1131.7 L746.5 1130.91 L747 1128.98 L747.5 1128.75 L748 1129.08 L748.5 1126.49 L749 1125.44 L749.5 1123.74 L750 1121.86 L750.5 1122.01 L751 1119.89 L751.5 1118.59 L752 1118.07 L752.5 1117.55 L753 1114.6 L753.5 1114.84 L754 1113.65 L754.5 1112.59 L755 1111.71 L755.5 1109.98 L756 1109.52 L756.5 1107.5 L757 1105.9 L757.5 1105 L758 1103.35 L758.5 1101.76 L759 1100.34 L759.5 1099.86 L760 1097.78 L760.5 1096.09 L761 1094.31 L761.5 1093.58 L762 1092.12 L762.5 1091.78 L763 1090.85 L763.5 1088.44 L764 1088.66 L764.5 1087.91 L765 1086.5 L765.5 1084.7 L766 1084.92 L766.5 1082.63 L767 1081.2 L767.5 1079.8 L768 1078.95 L768.5 1078.06 L769 1076.69 L769.5 1074.64 L770 1072.32 L770.5 1071.79 L771 1070.79 L771.5 1070.37 L772 1068.57 L772.5 1068.86 L773 1068.34 L773.5 1066.55 L774 1065.6 L774.5 1063.46 L775 1061.84 L775.5 1061.03 L776 1060.81 L776.5 1059.8 L777 1057.98 L777.5 1058.05 L778 1056.2 L778.5 1056.38 L779 1054.85 L779.5 1053.02 L780 1052.51 L780.5 1050.31 L781 1048.96 L781.5 1047.41 L782 1047.19 L782.5 1045.84 L783 1044.67 L783.5 1043.32 L784 1043.28 L784.5 1041.02 L785 1039.7 L785.5 1040.08 L786 1039.38 L786.5 1037.94 L787 1035.89 L787.5 1035.79 L788 1035.73 L788.5 1034.42 L789 1034.4 L789.5 1031.72 L790 1032.02 L790.5 1030.31 L791 1030.56 L791.5 1028.89 L792 1028.72 L792.5 1026.89 L793 1025.62 L793.5 1024.98 L794 1024.48 L794.5 1023.26 L795 1023.64 L795.5 1022.76 L796 1021.17 L796.5 1019.43 L797 1019.03 L797.5 1017.67 L798 1017.94 L798.5 1016.25 L799 1015.34 L799.5 1013.8 L800 1011.83 L800.5 1011.58 L801 1010.38 L801.5 1010.28 L802 1009.12 L802.5 1007.6 L803 1006.85 L803.5 1007.1 L804 1004.67 L804.5 1003.77 L805 1003.26 L805.5 1002.05 L806 1001.28 L806.5 1000.98 L807 1000.83 L807.5 997.84 L808 998.02 L808.5 997.17 L809 996.21 L809.5 995.19 L810 994.14 L810.5 993.99 L811 992.15 L811.5 991.41 L812 990.54 L812.5 989.78 L813 988.8 L813.5 988.69 L814 987.29 L814.5 986.6 L815 985.68 L815.5 984.05 L816 983.1 L816.5 981.92 L817 981.63 L817.5 980.06 L818 978.83 L818.5 979.1 L819 978.76 L819.5 976.9 L820 978.48 L820.5 977 L821 976.45 L821.5 976.4 L822 975.05 L822.5 973.91 L823 974.86 L823.5 972.19 L824 972.08 L824.5 972.24 L825 970.7 L825.5 970.91 L826 970.84 L826.5 971.69 L827 969.36 L827.5 969.08 L828 968.72 L828.5 967.6 L829 966.05 L829.5 966.25 L830 965.31 L830.5 964.82 L831 964.53 L831.5 963.77 L832 962.72 L832.5 961.99 L833 960.47 L833.5 960.61 L834 960.38 L834.5 959.58 L835 959.46 L835.5 958.49 L836 959.5 L836.5 959.18 L837 956.98 L837.5 956.78 L838 955.73 L838.5 955.96 L839 954.8 L839.5 954.16 L840 953.56 L840.5 953.35 L841 952.26 L841.5 952.85 L842 951.6 L842.5 951.74 L843 950.9 L843.5 950.88 L844 949.61 L844.5 949.64 L845 947.87 L845.5 948.66 L846 948.02 L846.5 948.14 L847 947.95 L847.5 948.35 L848 946.46 L848.5 947.34 L849 945.73 L849.5 946.84 L850 944.43 L850.5 944.5 L851 943.6 L851.5 945 L852 942.66 L852.5 942.92 L853 941.95 L853.5 940.62 L854 940.92 L854.5 941.25 L855 940.47 L855.5 940.87 L856 939.82 L856.5 939.78 L857 939.29 L857.5 939.46 L858 940.14 L858.5 938.97 L859 938.63 L859.5 937.91 L860 937.6 L860.5 938.57 L861 936.67 L861.5 936.44 L862 936.59 L862.5 936.05 L863 937.15 L863.5 934.26 L864 935.6 L864.5 935.52 L865 934.14 L865.5 934.14 L866 934.52 L866.5 934.85 L867 932.94 L867.5 932.17 L868 933.33 L868.5 933.29 L869 931.82 L869.5 930.48 L870 932.48 L870.5 931.29 L871 931.9 L871.5 931.02 L872 930.65 L872.5 930.5 L873 931.55 L873.5 931.43 L874 929.19 L874.5 929.82 L875 931.36 L875.5 930 L876 929.34 L876.5 930.1 L877 929.98 L877.5 929.95 L878 929.68 L878.5 929.5 L879 929.13 L879.5 929.33 L880 928.37 L880.5 928.42 L881 928.25 L881.5 929.02 L882 928.37" stroke="#ff7f0e" stroke-width="5.01" fill="none" stroke-linejoin="round" stroke-linecap="square"/>
<path d="M172 1556.4 V920.4" stroke="#ff7f0e" stroke-width="4.56" stroke-dasharray="16.86 7.29" fill="none"/>
<path d="M882 1556.4 V920.4" stroke="#ff7f0e" stroke-width="4.56" stroke-dasharray="16.86 7.29" fill="none"/>
<path d="M172 926.49 L172.4 924.09 L172.8 925.77 L173.2 924.69 L173.6 925.17 L174 925.87 L174.4 924.65 L174.8 924.58 L175.2 922.72 L175.6 922.78 L176 923.94 L176.4 925.06 L176.8 925.14 L177.2 926.26 L177.6 924.44 L178 924.5 L178.4 925.45 L178.8 924.6 L179.2 924.51 L179.6 923.36 L180 925.24 L180.4 923.01 L180.8 924.42 L181.2 922.32 L181.6 924.66 L182 922.36 L182.4 924.13 L182.8 921.6 L183.2 922.68 L183.6 924.25 L184 922.25 L184.4 923.12 L184.8 922.61 L185.2 920.84 L185.6 923.57 L186 923.81 L186.4 922.4 L186.8 924.22 L187.2 923.01 L187.6 922.98 L188 924.19 L188.4 923.24 L188.8 925.97 L189.2 921.9 L189.6 923.99 L190 924.04 L190.4 920.88 L190.8 920.95 L191.2 923.42 L191.6 922.9 L192 924.3 L192.4 925.59 L192.8 924.62 L193.2 924.47 L193.6 923.34 L194 926.81 L194.4 925.93 L194.8 927.41 L195.2 927.56 L195.6 926.17 L196 929.5 L196.4 929.08 L196.8 929.05 L197.2 927.13 L197.6 927.93 L198 927.8 L198.4 927.94 L198.8 927.23 L199.2 928.79 L199.6 928.58 L200 928.72 L200.4 928.05 L200.8 930.05 L201.2 929.15 L201.6 926.43 L202 928.73 L202.4 929.52 L202.8 930.74 L203.2 929.42 L203.6 929.16 L204 928.45 L204.4 929.47 L204.8 928.06 L205.2 927.61 L205.6 927.19 L206 928.2 L206.4 927.66 L206.8 927.07 L207.2 929.93 L207.6 929.17 L208 930.79 L208.4 931.38 L208.8 932.78 L209.2 933.19 L209.6 932.14 L210 933.13 L210.4 932.58 L210.8 936.13 L211.2 935.47 L211.6 937 L212 935.87 L212.4 933.85 L212.8 937.14 L213.2 935.41 L213.6 935.15 L214 934.79 L214.4 935.08 L214.8 934.68 L215.2 932.62 L215.6 935.72 L216 934.53 L216.4 935.03 L216.8 937.67 L217.2 937.31 L217.6 936.51 L218 935.46 L218.4 937.89 L218.8 938.68 L219.2 938.49 L219.6 937.76 L220 938.65 L220.4 938.64 L220.8 940.56 L221.2 941.59 L221.6 942.19 L222 940.83 L222.4 942.2 L222.8 942.92 L223.2 942.26 L223.6 943.02 L224 945.7 L224.4 944.29 L224.8 945.48 L225.2 944.68 L225.6 945.67 L226 944.42 L226.4 946.62 L226.8 948.34 L227.2 949.42 L227.6 948.37 L228 947.7 L228.4 946.91 L228.8 946.1 L229.2 946.38 L229.6 946.99 L230 945.42 L230.4 947.74 L230.8 946.41 L231.2 946.21 L231.6 947.56 L232 947.49 L232.4 948.37 L232.8 951.47 L233.2 950.65 L233.6 951.51 L234 952.89 L234.4 953.43 L234.8 952.11 L235.2 954.39 L235.6 953.91 L236 954 L236.4 954.47 L236.8 952.66 L237.2 953.35 L237.6 954.1 L238 954.89 L238.4 954 L238.8 954.33 L239.2 955.79 L239.6 956.85 L240 956.83 L240.4 957.97 L240.8 956.94 L241.2 957.7 L241.6 958.99 L242 959.03 L242.4 959.58 L242.8 962.5 L243.2 961.41 L243.6 961.41 L244 963.62 L244.4 965.73 L244.8 964.73 L245.2 966.47 L245.6 965.21 L246 965.56 L246.4 965.78 L246.8 966.75 L247.2 969.15 L247.6 966.59 L248 969.82 L248.4 967.58 L248.8 968.77 L249.2 970.26 L249.6 970.48 L250 970.56 L250.4 969.06 L250.8 971.51 L251.2 970.39 L251.6 974.08 L252 971.4 L252.4 971.89 L252.8 970.66 L253.2 971.42 L253.6 970.7 L254 973.07 L254.4 972.75 L254.8 974.51 L255.2 974.19 L255.6 975.31 L256 978.04 L256.4 976.73 L256.8 976.85 L257.2 979.87 L257.6 978.99 L258 980.37 L258.4 982.4 L258.8 981.35 L259.2 983.74 L259.6 982.87 L260 985.74 L260.4 986.1 L260.8 984.83 L261.2 985.62 L261.6 985.53 L262 987.1 L262.4 988.58 L262.8 986.52 L263.2 989.48 L263.6 987.91 L264 989.05 L264.4 988.79 L264.8 993.35 L265.2 991.98 L265.6 992.84 L266 992.59 L266.4 995.43 L266.8 993.35 L267.2 996.58 L267.6 999.84 L268 998.34 L268.4 999.81 L268.8 1001.54 L269.2 1000.65 L269.6 1001.6 L270 1002.65 L270.4 1001.98 L270.8 1002.26 L271.2 1001.63 L271.6 1002.38 L272 1002.2 L272.4 1004.05 L272.8 1003.76 L273.2 1003.23 L273.6 1001.46 L274 1005.05 L274.4 1005.54 L274.8 1004.33 L275.2 1003.87 L275.6 1005.51 L276 1008.38 L276.4 1007.2 L276.8 1008.64 L277.2 1010.16 L277.6 1012.03 L278 1011.66 L278.4 1012.21 L278.8 1012.41 L279.2 1015.26 L279.6 1015.37 L280 1014.9 L280.4 1014.31 L280.8 1015.64 L281.2 1017.77 L281.6 1017.28 L282 1019.7 L282.4 1019.97 L282.8 1020.71 L283.2 1021.87 L283.6 1022.52 L284 1021.97 L284.4 1023.33 L284.8 1026.82 L285.2 1024.09 L285.6 1025.64 L286 1027.99 L286.4 1027.58 L286.8 1027.73 L287.2 1028.06 L287.6 1030.81 L288 1032.18 L288.4 1033.44 L288.8 1032.97 L289.2 1034.84 L289.6 1033.63 L290 1035.69 L290.4 1035.49 L290.8 1036.98 L291.2 1038.18 L291.6 1039.12 L292 1037.68 L292.4 1040.54 L292.8 1039.4 L293.2 1039.38 L293.6 1040.69 L294 1039.85 L294.4 1041.76 L294.8 1042.48 L295.2 1042.41 L295.6 1043.57 L296 1043.13 L296.4 1044.22 L296.8 1043.55 L297.2 1045.81 L297.6 1045.69 L298 1046.86 L298.4 1047.99 L298.8 1049.04 L299.2 1047.94 L299.6 1048.73 L300 1050.7 L300.4 1052.18 L300.8 1052.77 L301.2 1054.01 L301.6 1055.12 L302 1055.02 L302.4 1054.98 L302.8 1054.45 L303.2 1055.03 L303.6 1056.02 L304 1057.27 L304.4 1057.76 L304.8 1058.1 L305.2 1058.69 L305.6 1060.43 L306 1060.97 L306.4 1062.04 L306.8 1063.05 L307.2 1063.2 L307.6 1063.74 L308 1066.3 L308.4 1066.98 L308.8 1067.12 L309.2 1067.71 L309.6 1071.2 L310 1068.96 L310.4 1070.29 L310.8 1071.57 L311.2 1070.85 L311.6 1072.71 L312 1074.98 L312.4 1074.71 L312.8 1075 L313.2 1075.55 L313.6 1075.66 L314 1077.1 L314.4 1077.03 L314.8 1077.81 L315.2 1079.38 L315.6 1081.22 L316 1081.69 L316.4 1083.08 L316.8 1081.42 L317.2 1085.71 L317.6 1087.95 L318 1088.04 L318.4 1087.48 L318.8 1088.05 L319.2 1090.27 L319.6 1090.1 L320 1092.92 L320.4 1092.47 L320.8 1094.76 L321.2 1095.97 L321.6 1093.39 L322 1096.53 L322.4 1096.36 L322.8 1096.48 L323.2 1098.01 L323.6 1099.07 L324 1100.99 L324.4 1099.1 L324.8 1102.35 L325.2 1103.99 L325.6 1103.25 L326 1103.88 L326.4 1104.39 L326.8 1104.29 L327.2 1107.06 L327.6 1107.97 L328 1109.38 L328.4 1112.28 L328.8 1111.5 L329.2 1112.08 L329.6 1113.9 L330 1111.69 L330.4 1112.58 L330.8 1114.03 L331.2 1114.42 L331.6 1116.44 L332 1116.09 L332.4 1118.93 L332.8 1119.48 L333.2 1119.49 L333.6 1119.1 L334 1120.85 L334.4 1121.79 L334.8 1120.66 L335.2 1123.02 L335.6 1124.51 L336 1125.16 L336.4 1127.64 L336.8 1128.41 L337.2 1127.5 L337.6 1129.59 L338 1129.78 L338.4 1132.01 L338.8 1131.39 L339.2 1134.01 L339.6 1134.32 L340 1135.75 L340.4 1135.49 L340.8 1135.05 L341.2 1139.18 L341.6 1138.21 L342 1140.74 L342.4 1140.77 L342.8 1142.01 L343.2 1144.16 L343.6 1143.68 L344 1145.75 L344.4 1143.75 L344.8 1147 L345.2 1146.77 L345.6 1147.77 L346 1148.8 L346.4 1150.03 L346.8 1152.23 L347.2 1149.67 L347.6 1152.59 L348 1152.84 L348.4 1155.74 L348.8 1155.16 L349.2 1157.05 L349.6 1157.19 L350 1159.26 L350.4 1160.43 L350.8 1159.84 L351.2 1161.1 L351.6 1160.44 L352 1162.98 L352.4 1164.33 L352.8 1163.74 L353.2 1166.38 L353.6 1164.3 L354 1165.65 L354.4 1167.26 L354.8 1169.32 L355.2 1171 L355.6 1172.09 L356 1173.31 L356.4 1175.23 L356.8 1175.18 L357.2 1175.55 L357.6 1176.75 L358 1181.31 L358.4 1178.05 L358.8 1181.46 L359.2 1184.25 L359.6 1184.34 L360 1184.09 L360.4 1185.99 L360.8 1187.92 L361.2 1189.33 L361.6 1188.3 L362 1191.03 L362.4 1191.85 L362.8 1194.03 L363.2 1195.65 L363.6 1195.24 L364 1195.47 L364.4 1198.66 L364.8 1201.38 L365.2 1201.39 L365.6 1201.79 L366 1204.82 L366.4 1202.25 L366.8 1205.07 L367.2 1204.48 L367.6 1205.99 L368 1206.93 L368.4 1209.78 L368.8 1208.77 L369.2 1210.61 L369.6 1211 L370 1214.54 L370.4 1215.04 L370.8 1217.34 L371.2 1217.33 L371.6 1219.6 L372 1222.53 L372.4 1222.82 L372.8 1225.1 L373.2 1226.46 L373.6 1227.01 L374 1227.21 L374.4 1230.86 L374.8 1231.12 L375.2 1232.98 L375.6 1231.01 L376 1232.37 L376.4 1232.86 L376.8 1235.09 L377.2 1237.85 L377.6 1238.08 L378 1238.19 L378.4 1239.08 L378.8 1240.43 L379.2 1240.1 L379.6 1241.53 L380 1242.02 L380.4 1240.63 L380.8 1243.39 L381.2 1246.11 L381.6 1245.36 L382 1246.64 L382.4 1247.23 L382.8 1248.42 L383.2 1251.06 L383.6 1250.66 L384 1250.91 L384.4 1249.84 L384.8 1253.42 L385.2 1253.09 L385.6 1254.31 L386 1258.02 L386.4 1259.45 L386.8 1258.37 L387.2 1262.67 L387.6 1263.82 L388 1264.12 L388.4 1267.18 L388.8 1266.35 L389.2 1268.23 L389.6 1269.35 L390 1271.04 L390.4 1274.39 L390.8 1273.54 L391.2 1275.08 L391.6 1276.64 L392 1279.15 L392.4 1279.57 L392.8 1281.71 L393.2 1281.07 L393.6 1281.41 L394 1283.09 L394.4 1284.52 L394.8 1284.42 L395.2 1286.81 L395.6 1289.82 L396 1288.89 L396.4 1290.96 L396.8 1293.71 L397.2 1293.15 L397.6 1294.38 L398 1295.56 L398.4 1298.16 L398.8 1299.38 L399.2 1299.83 L399.6 1301.13 L400 1303.49 L400.4 1304.21 L400.8 1303.08 L401.2 1305.61 L401.6 1306.88 L402 1308.66 L402.4 1308.88 L402.8 1309.63 L403.2 1311 L403.6 1310.86 L404 1313.79 L404.4 1314.17 L404.8 1316.19 L405.2 1315.66 L405.6 1317.2 L406 1317.6 L406.4 1318.43 L406.8 1321.11 L407.2 1321.07 L407.6 1323.32 L408 1323.09 L408.4 1325.62 L408.8 1325.13 L409.2 1327.62 L409.6 1328.86 L410 1331.19 L410.4 1331.48 L410.8 1331.79 L411.2 1333.46 L411.6 1333.48 L412 1334.49 L412.4 1335.4 L412.8 1335.26 L413.2 1336.12 L413.6 1338.22 L414 1338.98 L414.4 1341.31 L414.8 1343.58 L415.2 1344.89 L415.6 1345.25 L416 1345.96 L416.4 1348.19 L416.8 1349.14 L417.2 1351.41 L417.6 1350.99 L418 1352.25 L418.4 1354.27 L418.8 1354.15 L419.2 1355.55 L419.6 1358.51 L420 1359.36 L420.4 1359.56 L420.8 1360.25 L421.2 1360.05 L421.6 1362.59 L422 1363.11 L422.4 1364.82 L422.8 1365.63 L423.2 1367.67 L423.6 1369.02 L424 1371.03 L424.4 1373.63 L424.8 1374.05 L425.2 1373.3 L425.6 1375.04 L426 1375.47 L426.4 1377.29 L426.8 1379.66 L427.2 1380.53 L427.6 1380.55 L428 1382.44 L428.4 1382.2 L428.8 1382.31 L429.2 1383.1 L429.6 1384.42 L430 1387.46 L430.4 1385.47 L430.8 1388.81 L431.2 1390 L431.6 1389.94 L432 1391.52 L432.4 1392.4 L432.8 1394.42 L433.2 1396.55 L433.6 1397.34 L434 1399.76 L434.4 1400.5 L434.8 1400.2 L435.2 1400.73 L435.6 1400.88 L436 1401.83 L436.4 1400.91 L436.8 1402.97 L437.2 1403.63 L437.6 1403.77 L438 1407.97 L438.4 1406.05 L438.8 1407.35 L439.2 1409.68 L439.6 1408.67 L440 1411 L440.4 1411.39 L440.8 1413.06 L441.2 1415 L441.6 1416.55 L442 1418.43 L442.4 1419.22 L442.8 1420.68 L443.2 1420.84 L443.6 1420.22 L444 1422.23 L444.4 1421.05 L444.8 1421.33 L445.2 1423.88 L445.6 1423.54 L446 1423.36 L446.4 1425.27 L446.8 1426.76 L447.2 1425.89 L447.6 1428.52 L448 1428.81 L448.4 1431.47 L448.8 1432.05 L449.2 1435.12 L449.6 1435.01 L450 1434.42 L450.4 1435.94 L450.8 1435.48 L451.2 1437.47 L451.6 1438.71 L452 1439.16 L452.4 1437.87 L452.8 1440.36 L453.2 1442.1 L453.6 1442.8 L454 1444.55 L454.4 1443.01 L454.8 1445.72 L455.2 1445.37 L455.6 1446.96 L456 1447.91 L456.4 1448.93 L456.8 1448.41 L457.2 1449.91 L457.6 1449.3 L458 1449.81 L458.4 1452.89 L458.8 1453.4 L459.2 1452.97 L459.6 1454.87 L460 1456.88 L460.4 1459.56 L460.8 1460.2 L461.2 1460.91 L461.6 1459.07 L462 1461.51 L462.4 1462.85 L462.8 1463.53 L463.2 1464.32 L463.6 1464.45 L464 1467.23 L464.4 1467.97 L464.8 1467.42 L465.2 1467.55 L465.6 1471.59 L466 1469.98 L466.4 1472.7 L466.8 1474.38 L467.2 1472.49 L467.6 1474.71 L468 1475.03 L468.4 1476.84 L468.8 1477.58 L469.2 1480.12 L469.6 1479.66 L470 1479.95 L470.4 1481.76 L470.8 1481.02 L471.2 1481.56 L471.6 1484.79 L472 1482.34 L472.4 1483.28 L472.8 1484.41 L473.2 1484.18 L473.6 1484.26 L474 1488.55 L474.4 1487.84 L474.8 1489.21 L475.2 1490.51 L475.6 1491.02 L476 1492.04 L476.4 1493.55 L476.8 1496.05 L477.2 1494.64 L477.6 1494.9 L478 1492.89 L478.4 1494.61 L478.8 1493.68 L479.2 1496.11 L479.6 1495.84 L480 1496.82 L480.4 1497.41 L480.8 1497.62 L481.2 1497.38 L481.6 1500.17 L482 1498.89 L482.4 1499.76 L482.8 1501.31 L483.2 1501.57 L483.6 1503.2 L484 1504.62 L484.4 1504.52 L484.8 1505.14 L485.2 1505.62 L485.6 1507.1 L486 1505.05 L486.4 1507.91 L486.8 1507.26 L487.2 1507.6 L487.6 1509.47 L488 1509.7 L488.4 1511.36 L488.8 1512.55 L489.2 1509.79 L489.6 1512.71 L490 1515.39 L490.4 1514.95 L490.8 1516.16 L491.2 1515.39 L491.6 1514.36 L492 1515.17 L492.4 1517.5 L492.8 1518.24 L493.2 1517.02 L493.6 1517.95 L494 1518.95 L494.4 1517.24 L494.8 1518.94 L495.2 1521.21 L495.6 1522.08 L496 1520.09 L496.4 1522.33 L496.8 1520.27 L497.2 1520.36 L497.6 1519.39 L498 1523.03 L498.4 1522.16 L498.8 1525.32 L499.2 1523.75 L499.6 1524.04 L500 1522.47 L500.4 1526.26 L500.8 1524.88 L501.2 1525.56 L501.6 1523.98 L502 1527.58 L502.4 1528.09 L502.8 1526.94 L503.2 1528.1 L503.6 1528.88 L504 1529.93 L504.4 1529.54 L504.8 1531.62 L505.2 1530.11 L505.6 1530.19 L506 1530.78 L506.4 1529.03 L506.8 1531.08 L507.2 1533.21 L507.6 1532.78 L508 1532.02 L508.4 1533.5 L508.8 1531.45 L509.2 1533.42 L509.6 1534.39 L510 1534.72 L510.4 1533.4 L510.8 1535.24 L511.2 1536.35 L511.6 1534.21 L512 1535.52 L512.4 1533.32 L512.8 1533.01 L513.2 1535.68 L513.6 1535.2 L514 1535.45 L514.4 1534.75 L514.8 1535.13 L515.2 1536.74 L515.6 1538.57 L516 1537.56 L516.4 1537.04 L516.8 1540.89 L517.2 1541.13 L517.6 1542.13 L518 1542.55 L518.4 1544.82 L518.8 1542.69 L519.2 1543.26 L519.6 1541.02 L520 1542.42 L520.4 1542.44 L520.8 1543.22 L521.2 1543.76 L521.6 1542.86 L522 1545.54 L522.4 1542.93 L522.8 1543.72 L523.2 1544.58 L523.6 1543.24 L524 1545.21 L524.4 1545.52 L524.8 1544.83 L525.2 1547.26 L525.6 1545.64 L526 1546.05 L526.4 1545 L526.8 1544.47 L527.2 1545.62 L527.6 1545.95 L528 1545.84 L528.4 1547.07 L528.8 1543.9 L529.2 1545.15 L529.6 1544.46 L530 1547.63 L530.4 1545.77 L530.8 1545.87 L531.2 1545.34 L531.6 1547.39 L532 1546.13 L532.4 1546.82 L532.8 1544.62 L533.2 1547.96 L533.6 1547.41 L534 1547.78 L534.4 1548.69 L534.8 1547.47 L535.2 1547.71 L535.6 1548.81 L536 1548.73 L536.4 1548.19 L536.8 1548.61 L537.2 1548.18 L537.6 1549.53 L538 1549.87 L538.4 1549.06 L538.8 1551.06 L539.2 1547.72 L539.6 1549.07 L540 1551.05 L540.4 1548.96 L540.8 1547.81 L541.2 1550.85 L541.6 1550.04 L542 1548.33 L542.4 1550.27 L542.8 1548.44 L543.2 1548.08 L543.6 1549.22 L544 1548.84 L544.4 1548.17 L544.8 1548.84 L545.2 1548.28 L545.6 1549.57 L546 1549.7 L546.4 1550.68 L546.8 1549.69 L547.2 1549.01 L547.6 1549.22 L548 1550.49 L548.4 1552.42 L548.8 1551.88 L549.2 1550.53 L549.6 1552.25 L550 1550.27 L550.4 1552.56 L550.8 1551.27 L551.2 1552.38 L551.6 1552.04 L552 1550.94 L552.4 1551.33 L552.8 1549.72 L553.2 1550.49 L553.6 1551.42 L554 1554.2 L554.4 1550.78 L554.8 1550.14 L555.2 1549 L555.6 1551.03 L556 1548.25 L556.4 1549.04 L556.8 1550.13 L557.2 1548.28 L557.6 1550.56 L558 1549.62 L558.4 1547.46 L558.8 1546.97 L559.2 1545.69 L559.6 1545.08 L560 1546.4 L560.4 1546.62 L560.8 1546.37 L561.2 1546.31 L561.6 1545.49 L562 1546.42 L562.4 1544.58 L562.8 1546.06 L563.2 1547.4 L563.6 1546.98 L564 1544.92 L564.4 1544.77 L564.8 1546.21 L565.2 1546.35 L565.6 1542.77 L566 1543.56 L566.4 1543.76 L566.8 1544.28 L567.2 1541.75 L567.6 1542.77 L568 1541.35 L568.4 1543.56 L568.8 1541.13 L569.2 1540.13 L569.6 1539.54 L570 1540.54 L570.4 1539.77 L570.8 1537.61 L571.2 1538.52 L571.6 1536.56 L572 1536.74 L572.4 1536.19 L572.8 1536.14 L573.2 1536.77 L573.6 1536.46 L574 1537.95 L574.4 1538.21 L574.8 1537.14 L575.2 1535.98 L575.6 1537.39 L576 1534.02 L576.4 1533.58 L576.8 1535.71 L577.2 1535.1 L577.6 1534.87 L578 1533.13 L578.4 1531.9 L578.8 1532.47 L579.2 1533.36 L579.6 1531.83 L580 1531.69 L580.4 1530.8 L580.8 1530.83 L581.2 1532.47 L581.6 1531.55 L582 1529.39 L582.4 1528.94 L582.8 1528.92 L583.2 1529.5 L583.6 1527.23 L584 1527.68 L584.4 1525.42 L584.8 1526.04 L585.2 1527.45 L585.6 1527.64 L586 1525.29 L586.4 1525.38 L586.8 1526.66 L587.2 1525.02 L587.6 1524.27 L588 1524.73 L588.4 1523.8 L588.8 1524.1 L589.2 1523.16 L589.6 1521.17 L590 1521.01 L590.4 1520.42 L590.8 1518.47 L591.2 1518.21 L591.6 1519.51 L592 1516.29 L592.4 1518.23 L592.8 1516.87 L593.2 1515.97 L593.6 1516.36 L594 1516.01 L594.4 1516.45 L594.8 1514.53 L595.2 1514.4 L595.6 1514.07 L596 1515.89 L596.4 1514.39 L596.8 1511.94 L597.2 1511.96 L597.6 1511.01 L598 1511.14 L598.4 1510.76 L598.8 1512.25 L599.2 1507.61 L599.6 1510.06 L600 1509.05 L600.4 1507.49 L600.8 1507.63 L601.2 1506.86 L601.6 1507 L602 1507.54 L602.4 1504.28 L602.8 1506.38 L603.2 1503.95 L603.6 1505.09 L604 1503.25 L604.4 1503.33 L604.8 1501.9 L605.2 1501.75 L605.6 1500.12 L606 1498.64 L606.4 1499.54 L606.8 1498.97 L607.2 1499.75 L607.6 1495.02 L608 1496.2 L608.4 1497 L608.8 1494.22 L609.2 1494.78 L609.6 1496.66 L610 1495.49 L610.4 1492.71 L610.8 1494.55 L611.2 1493.76 L611.6 1492.73 L612 1491.71 L612.4 1490.94 L612.8 1489.21 L613.2 1488.93 L613.6 1489.55 L614 1488.33 L614.4 1489.3 L614.8 1486.38 L615.2 1483.57 L615.6 1484.9 L616 1484.77 L616.4 1484.12 L616.8 1483.06 L617.2 1481.46 L617.6 1483.12 L618 1480.3 L618.4 1481.01 L618.8 1479.34 L619.2 1477.76 L619.6 1479.7 L620 1475.09 L620.4 1475.94 L620.8 1476.42 L621.2 1474.81 L621.6 1475.1 L622 1473.43 L622.4 1472.26 L622.8 1474.06 L623.2 1470.92 L623.6 1470.3 L624 1468.68 L624.4 1468.33 L624.8 1469.04 L625.2 1468.27 L625.6 1467.02 L626 1465.63 L626.4 1466.3 L626.8 1463.19 L627.2 1463.84 L627.6 1463.21 L628 1461.9 L628.4 1462.18 L628.8 1460.64 L629.2 1459.74 L629.6 1461.55 L630 1459.68 L630.4 1459.34 L630.8 1457.39 L631.2 1457.5 L631.6 1456.51 L632 1456.14 L632.4 1456.51 L632.8 1453.13 L633.2 1452.84 L633.6 1451.74 L634 1447.49 L634.4 1448.83 L634.8 1449.46 L635.2 1449.32 L635.6 1447.39 L636 1448.38 L636.4 1447.81 L636.8 1445.39 L637.2 1446.5 L637.6 1446.11 L638 1444.09 L638.4 1442.24 L638.8 1444.28 L639.2 1442.24 L639.6 1441.62 L640 1441.7 L640.4 1440.63 L640.8 1441.83 L641.2 1440.78 L641.6 1440.12 L642 1438.38 L642.4 1435.9 L642.8 1435.43 L643.2 1435.37 L643.6 1432.98 L644 1435.2 L644.4 1431.25 L644.8 1430.11 L645.2 1431.05 L645.6 1429.86 L646 1428.29 L646.4 1427.3 L646.8 1427.17 L647.2 1426.79 L647.6 1425.95 L648 1424.11 L648.4 1424.07 L648.8 1423.71 L649.2 1422.85 L649.6 1418.23 L650 1419.65 L650.4 1419.06 L650.8 1418.9 L651.2 1418.6 L651.6 1418.64 L652 1417.63 L652.4 1416.18 L652.8 1415.62 L653.2 1416.65 L653.6 1413.56 L654 1413.77 L654.4 1414.31 L654.8 1412.38 L655.2 1409.28 L655.6 1410.98 L656 1409.5 L656.4 1408.82 L656.8 1409.03 L657.2 1407.49 L657.6 1405.8 L658 1406 L658.4 1404.58 L658.8 1403.28 L659.2 1402.54 L659.6 1401.59 L660 1400.09 L660.4 1399.05 L660.8 1398.62 L661.2 1396.71 L661.6 1395.47 L662 1397.1 L662.4 1395.07 L662.8 1394.8 L663.2 1394.19 L663.6 1393.85 L664 1393.34 L664.4 1392.87 L664.8 1391.48 L665.2 1392.39 L665.6 1389.64 L666 1390.24 L666.4 1386.15 L666.8 1385.88 L667.2 1386.8 L667.6 1384.53 L668 1382.88 L668.4 1383.35 L668.8 1381.35 L669.2 1381.9 L669.6 1379.03 L670 1380.21 L670.4 1379.44 L670.8 1380.05 L671.2 1379.66 L671.6 1377.06 L672 1378.66 L672.4 1375.59 L672.8 1373.26 L673.2 1372.06 L673.6 1375.12 L674 1372.62 L674.4 1371.36 L674.8 1370.55 L675.2 1369.51 L675.6 1371.25 L676 1369.11 L676.4 1370.28 L676.8 1367.59 L677.2 1364.71 L677.6 1367.14 L678 1365.17 L678.4 1364.54 L678.8 1365.6 L679.2 1363.02 L679.6 1363.71 L680 1361.8 L680.4 1360.06 L680.8 1360.33 L681.2 1358.23 L681.6 1359.08 L682 1357.83 L682.4 1355.96 L682.8 1355.54 L683.2 1354.56 L683.6 1352.81 L684 1353.08 L684.4 1351.05 L684.8 1350.99 L685.2 1348.52 L685.6 1348.67 L686 1348.08 L686.4 1346.01 L686.8 1345.52 L687.2 1344.55 L687.6 1344.95 L688 1342.64 L688.4 1342.94 L688.8 1343.17 L689.2 1341.21 L689.6 1338.53 L690 1339.56 L690.4 1339.76 L690.8 1337.72 L691.2 1338.4 L691.6 1337.2 L692 1336.29 L692.4 1334.96 L692.8 1334.06 L693.2 1333.67 L693.6 1333.34 L694 1333.16 L694.4 1332.41 L694.8 1331.04 L695.2 1330.54 L695.6 1329.79 L696 1326.69 L696.4 1326.47 L696.8 1325.36 L697.2 1324.88 L697.6 1323.73 L698 1322.66 L698.4 1321.56 L698.8 1322.62 L699.2 1321.73 L699.6 1319.3 L700 1320.44 L700.4 1318.77 L700.8 1321.06 L701.2 1318.19 L701.6 1317.37 L702 1316.95 L702.4 1315.76 L702.8 1314.99 L703.2 1315.67 L703.6 1313.41 L704 1313.07 L704.4 1312.52 L704.8 1309.57 L705.2 1311.39 L705.6 1309.55 L706 1308.97 L706.4 1306.31 L706.8 1307.14 L707.2 1305.77 L707.6 1303.73 L708 1305.46 L708.4 1302.66 L708.8 1300.76 L709.2 1300.11 L709.6 1299.73 L710 1298.86 L710.4 1297.43 L710.8 1297.18 L711.2 1296.55 L711.6 1292.96 L712 1292.82 L712.4 1291.48 L712.8 1291.63 L713.2 1291.99 L713.6 1290.12 L714 1287.35 L714.4 1287.03 L714.8 1287.26 L715.2 1284.6 L715.6 1283.92 L716 1283.19 L716.4 1280.09 L716.8 1281.7 L717.2 1280.26 L717.6 1279.46 L718 1276.89 L718.4 1276.05 L718.8 1275.17 L719.2 1274.83 L719.6 1273.33 L720 1272.06 L720.4 1272.38 L720.8 1270.54 L721.2 1267.15 L721.6 1265.84 L722 1266.84 L722.4 1263.91 L722.8 1264.7 L723.2 1264.02 L723.6 1260.97 L724 1260.34 L724.4 1259.78 L724.8 1257.93 L725.2 1256.87 L725.6 1256.47 L726 1256.74 L726.4 1254.46 L726.8 1253.72 L727.2 1252.48 L727.6 1250.6 L728 1252.46 L728.4 1247.22 L728.8 1247.49 L729.2 1247.28 L729.6 1243.89 L730 1244.44 L730.4 1243.63 L730.8 1240.05 L731.2 1239.76 L731.6 1237.19 L732 1237.54 L732.4 1235.85 L732.8 1234.7 L733.2 1234.56 L733.6 1232.36 L734 1231.92 L734.4 1229.61 L734.8 1226.15 L735.2 1225.95 L735.6 1224.5 L736 1220.84 L736.4 1221.88 L736.8 1218.83 L737.2 1217.6 L737.6 1215.06 L738 1214.71 L738.4 1213.6 L738.8 1211.6 L739.2 1210.6 L739.6 1206.97 L740 1208.99 L740.4 1204.34 L740.8 1201.09 L741.2 1200.13 L741.6 1198.07 L742 1197.27 L742.4 1193.63 L742.8 1192.68 L743.2 1189.61 L743.6 1191.26 L744 1188.12 L744.4 1188.09 L744.8 1183.72 L745.2 1184.03 L745.6 1181.09 L746 1181.33 L746.4 1179.85 L746.8 1176.04 L747.2 1174.99 L747.6 1173.49 L748 1171.73 L748.4 1171.11 L748.8 1169.53 L749.2 1167.7 L749.6 1167.88 L750 1166.95 L750.4 1163.73 L750.8 1163.11 L751.2 1162.31 L751.6 1160.7 L752 1158.86 L752.4 1159.45 L752.8 1158.57 L753.2 1157.48 L753.6 1155.67 L754 1156.95 L754.4 1155.78 L754.8 1152.72 L755.2 1151.86 L755.6 1151.8 L756 1148.45 L756.4 1148.27 L756.8 1146.54 L757.2 1144.4 L757.6 1143.47 L758 1140.73 L758.4 1140.52 L758.8 1137.82 L759.2 1140.85 L759.6 1138.81 L760 1137.27 L760.4 1135.07 L760.8 1134.48 L761.2 1133.48 L761.6 1131.94 L762 1130.56 L762.4 1127.44 L762.8 1127.49 L763.2 1125.25 L763.6 1123.32 L764 1122.08 L764.4 1122.27 L764.8 1121.51 L765.2 1117.71 L765.6 1119.44 L766 1117.79 L766.4 1114.57 L766.8 1113.12 L767.2 1112.15 L767.6 1111.85 L768 1109.15 L768.4 1107.09 L768.8 1107.21 L769.2 1103.49 L769.6 1104.38 L770 1104.09 L770.4 1102.11 L770.8 1101.47 L771.2 1100.08 L771.6 1099.21 L772 1097.53 L772.4 1095.46 L772.8 1094.99 L773.2 1093.94 L773.6 1093.95 L774 1093 L774.4 1090.49 L774.8 1088.01 L775.2 1086.74 L775.6 1085.98 L776 1086.27 L776.4 1084.12 L776.8 1082.65 L777.2 1080.86 L777.6 1081.42 L778 1079.76 L778.4 1078.35 L778.8 1077.43 L779.2 1077.86 L779.6 1074.78 L780 1075.4 L780.4 1073.72 L780.8 1071.31 L781.2 1070.92 L781.6 1068.69 L782 1066.77 L782.4 1066.1 L782.8 1064.23 L783.2 1064.42 L783.6 1062.7 L784 1062.02 L784.4 1061.06 L784.8 1055.89 L785.2 1058.21 L785.6 1055.12 L786 1056.1 L786.4 1054.08 L786.8 1054.08 L787.2 1054.36 L787.6 1050.31 L788 1051.23 L788.4 1049.89 L788.8 1047.01 L789.2 1048.48 L789.6 1046.83 L790 1045.26 L790.4 1044.04 L790.8 1046.99 L791.2 1042.45 L791.6 1040.15 L792 1040.15 L792.4 1039.86 L792.8 1039.01 L793.2 1038.51 L793.6 1036.75 L794 1037.56 L794.4 1035.89 L794.8 1034.38 L795.2 1034.31 L795.6 1034.15 L796 1034.81 L796.4 1033.87 L796.8 1032.47 L797.2 1031.95 L797.6 1030.98 L798 1031.63 L798.4 1027.81 L798.8 1027.72 L799.2 1026.81 L799.6 1023.97 L800 1023.94 L800.4 1023.45 L800.8 1022.36 L801.2 1022.95 L801.6 1022.97 L802 1022.64 L802.4 1020.89 L802.8 1020.86 L803.2 1022.32 L803.6 1017.86 L804 1018.19 L804.4 1017.87 L804.8 1016.15 L805.2 1015.69 L805.6 1014.25 L806 1013.88 L806.4 1013.98 L806.8 1012.06 L807.2 1012.06 L807.6 1011.38 L808 1010.61 L808.4 1010.57 L808.8 1009.04 L809.2 1010.45 L809.6 1010.89 L810 1010.38 L810.4 1009.44 L810.8 1006.69 L811.2 1008.66 L811.6 1005.91 L812 1006.06 L812.4 1007.11 L812.8 1003.34 L813.2 1004.4 L813.6 1002.98 L814 1001.66 L814.4 1000.03 L814.8 1000.41 L815.2 998.73 L815.6 999.59 L816 999.1 L816.4 995.81 L816.8 995.97 L817.2 995.42 L817.6 993.81 L818 993.1 L818.4 993.75 L818.8 992.88 L819.2 990.84 L819.6 991.34 L820 991.76 L820.4 989.39 L820.8 989.03 L821.2 990.75 L821.6 989.53 L822 985.65 L822.4 984.97 L822.8 985.76 L823.2 983.29 L823.6 983.35 L824 982.32 L824.4 982.51 L824.8 978.63 L825.2 978.2 L825.6 978.46 L826 980.01 L826.4 978.19 L826.8 976.01 L827.2 977.59 L827.6 977.18 L828 975.63 L828.4 974.99 L828.8 975.23 L829.2 975.51 L829.6 973.99 L830 973.9 L830.4 973.39 L830.8 973.12 L831.2 972.65 L831.6 973.89 L832 973.41 L832.4 973.53 L832.8 974.77 L833.2 974.01 L833.6 973.69 L834 970.54 L834.4 971.97 L834.8 970.11 L835.2 969.19 L835.6 968.44 L836 969.8 L836.4 968.95 L836.8 966.93 L837.2 966.04 L837.6 966.73 L838 965.78 L838.4 967.43 L838.8 963.84 L839.2 963.24 L839.6 964.83 L840 965.1 L840.4 965.23 L840.8 965.86 L841.2 967.18 L841.6 964.77 L842 964.58 L842.4 962.84 L842.8 964.32 L843.2 964.41 L843.6 962.77 L844 963.69 L844.4 962.02 L844.8 962.98 L845.2 961.29 L845.6 959.39 L846 959.3 L846.4 957.89 L846.8 957.18 L847.2 958.69 L847.6 958.8 L848 959.39 L848.4 957.26 L848.8 956.97 L849.2 955.99 L849.6 957.99 L850 957.29 L850.4 956.21 L850.8 957.4 L851.2 957 L851.6 954.1 L852 956.25 L852.4 955.19 L852.8 954.2 L853.2 953.73 L853.6 955.44 L854 954.77 L854.4 954.83 L854.8 951.63 L855.2 951.89 L855.6 953.22 L856 950.88 L856.4 951.14 L856.8 949.83 L857.2 953.19 L857.6 952.04 L858 951.08 L858.4 950.48 L858.8 949.5 L859.2 949.18 L859.6 949.86 L860 948.21 L860.4 949.7 L860.8 947.54 L861.2 946.72 L861.6 948.47 L862 946.6 L862.4 946.88 L862.8 945.5 L863.2 943.5 L863.6 946.38 L864 944.57 L864.4 947.09 L864.8 944.55 L865.2 944.33 L865.6 946.6 L866 946.81 L866.4 946.18 L866.8 944.54 L867.2 946.33 L867.6 943.66 L868 944.34 L868.4 943.7 L868.8 943.79 L869.2 944.68 L869.6 942.82 L870 943.65 L870.4 943.42 L870.8 940.65 L871.2 940.83 L871.6 941.25 L872 940.68 L872.4 941.43 L872.8 939.04 L873.2 941.54 L873.6 941.42 L874 940.36 L874.4 939.01 L874.8 940.25 L875.2 939.68 L875.6 940.86 L876 940.29 L876.4 941.18 L876.8 940.1 L877.2 942.05 L877.6 938.39 L878 939.76 L878.4 940.9 L878.8 938.53 L879.2 940.42 L879.6 938.12 L880 939.09 L880.4 937.76 L880.8 937.92 L881.2 938.36 L881.6 938.04 L882 937.73" stroke="#2ca02c" stroke-width="6.06" fill="none" stroke-linejoin="round" stroke-linecap="square"/>
<rect x="136.5" y="31.5" width="781" height="699.8" fill="none" stroke="#000" stroke-width="3"/>
<rect x="136.5" y="889.4" width="781" height="699.1" fill="none" stroke="#000" stroke-width="3"/>
<text x="115.24" y="710.5" text-anchor="end">−2.0</text>
<text x="115.24" y="631.08" text-anchor="end">−1.5</text>
<text x="115.24" y="551.65" text-anchor="end">−1.0</text>
<text x="115.24" y="472.23" text-anchor="end">−0.5</text>
<text x="115.24" y="392.8" text-anchor="end">0.0</text>
<text x="115.24" y="313.38" text-anchor="end">0.5</text>
<text x="115.24" y="233.95" text-anchor="end">1.0</text>
<text x="115.24" y="154.53" text-anchor="end">1.5</text>
<text x="115.24" y="75.1" text-anchor="end">2.0</text>
<text x="172" y="775.3" text-anchor="middle">0.0</text>
<text x="313.98" y="775.3" text-anchor="middle">0.2</text>
<text x="455.96" y="775.3" text-anchor="middle">0.4</text>
<text x="597.94" y="775.3" text-anchor="middle">0.6</text>
<text x="739.92" y="775.3" text-anchor="middle">0.8</text>
<text x="881.9" y="775.3" text-anchor="middle">1.0</text>
<text x="115.24" y="1567.95" text-anchor="end">−2.0</text>
<text x="115.24" y="1488.45" text-anchor="end">−1.5</text>
<text x="115.24" y="1408.95" text-anchor="end">−1.0</text>
<text x="115.24" y="1329.45" text-anchor="end">−0.5</text>
<text x="115.24" y="1249.95" text-anchor="end">0.0</text>
<text x="115.24" y="1170.45" text-anchor="end">0.5</text>
<text x="115.24" y="1090.95" text-anchor="end">1.0</text>
<text x="115.24" y="1011.45" text-anchor="end">1.5</text>
<text x="115.24" y="931.95" text-anchor="end">2.0</text>
<text x="202.1" y="1632.7" text-anchor="middle">3.010</text>
<text x="352.5" y="1632.7" text-anchor="middle">3.015</text>
<text x="502.9" y="1632.7" text-anchor="middle">3.020</text>
<text x="653.3" y="1632.7" text-anchor="middle">3.025</text>
<text x="803.7" y="1632.7" text-anchor="middle">3.030</text>
<text x="938.76" y="1585.26" text-anchor="start">−8</text>
<text x="938.76" y="1491.52" text-anchor="start">−6</text>
<text x="938.76" y="1397.78" text-anchor="start">−4</text>
<text x="938.76" y="1304.04" text-anchor="start">−2</text>
<text x="938.76" y="1210.3" text-anchor="start">0</text>
<text x="938.76" y="1116.56" text-anchor="start">2</text>
<text x="938.76" y="1022.82" text-anchor="start">4</text>
<text x="938.76" y="929.08" text-anchor="start">6</text>
<path d="M136.5 699 h-10.63 M136.5 619.58 h-10.63 M136.5 540.15 h-10.63 M136.5 460.73 h-10.63 M136.5 381.3 h-10.63 M136.5 301.88 h-10.63 M136.5 222.45 h-10.63 M136.5 143.03 h-10.63 M136.5 63.6 h-10.63 M172 731.3 v10.63 M313.98 731.3 v10.63 M455.96 731.3 v10.63 M597.94 731.3 v10.63 M739.92 731.3 v10.63 M881.9 731.3 v10.63 M136.5 1556.45 h-10.63 M136.5 1476.95 h-10.63 M136.5 1397.45 h-10.63 M136.5 1317.95 h-10.63 M136.5 1238.45 h-10.63 M136.5 1158.95 h-10.63 M136.5 1079.45 h-10.63 M136.5 999.95 h-10.63 M136.5 920.45 h-10.63 M202.1 1588.5 v10.63 M352.5 1588.5 v10.63 M502.9 1588.5 v10.63 M653.3 1588.5 v10.63 M803.7 1588.5 v10.63 M917.5 1573.76 h10.63 M917.5 1480.02 h10.63 M917.5 1386.28 h10.63 M917.5 1292.54 h10.63 M917.5 1198.8 h10.63 M917.5 1105.06 h10.63 M917.5 1011.32 h10.63 M917.5 917.58 h10.63" stroke="#000" stroke-width="3" fill="none"/>
<text x="136.5" y="22.7">1e3</text>
<text x="917.5" y="813.5" text-anchor="end">1e−3</text>
<text x="136.5" y="879.6">1e3</text>
<text x="917.5" y="879.6" text-anchor="end">1e−10</text>
<text x="917.5" y="1671.5" text-anchor="end">1e−4</text>
<text transform="translate(23.3 381.2) rotate(-90)" text-anchor="middle">voltage / V</text>
<text transform="translate(23.3 1238.6) rotate(-90)" text-anchor="middle">voltage / V</text>
<text transform="translate(1019 1238.6) rotate(-90)" text-anchor="middle">charge / C</text>
<text x="527" y="1673.4" text-anchor="middle">time / s</text>
<text x="193.4" y="71.8">(a)</text>
<text x="150.6" y="722.7">t<tspan font-size="21.26" font-style="oblique" dy="5.3">begin</tspan></text>
<text x="911.4" y="722.7" text-anchor="end">t<tspan font-size="21.26" font-style="oblique" dy="5.3">begin</tspan><tspan dy="-5.3" dx="-3.6"> +</tspan><tspan font-style="oblique" dx="-3.6"> T</tspan></text>
<text x="163" y="1579.9">t<tspan font-size="21.26" dy="5.4">0</tspan></text>
<text x="873.4" y="1579.9">t<tspan font-size="21.26" dy="5.4">1</tspan></text>
<path d="M172 920.4 L386.5 690.3 L882 920.4" stroke="#ff7f0e" stroke-width="4.56" stroke-dasharray="16.86 7.29" fill="none" stroke-linejoin="miter"/>
<rect x="151.6" y="904.4" width="223.6" height="53.8" rx="4.8" ry="4.8" fill="#ffffff" fill-opacity="0.8" stroke="#cccccc" stroke-opacity="0.5" stroke-width="3.04"/>
<path d="M163.75 928.6 H224.5" stroke="#ff7f0e" stroke-width="4.56" stroke-linecap="square" fill="none"/>
<text x="248.8" y="938.6">voltage</text>
<rect x="689.2" y="904.4" width="213.1" height="53.8" rx="4.8" ry="4.8" fill="#ffffff" fill-opacity="0.8" stroke="#cccccc" stroke-opacity="0.5" stroke-width="3.04"/>
<path d="M701.35 928.6 H762.1" stroke="#2ca02c" stroke-width="4.56" stroke-linecap="square" fill="none"/>
<text x="786.4" y="938.6">charge</text>
<text x="385.9" y="938.6">(b)</text>
</g>
</svg>
</body>
</html>
